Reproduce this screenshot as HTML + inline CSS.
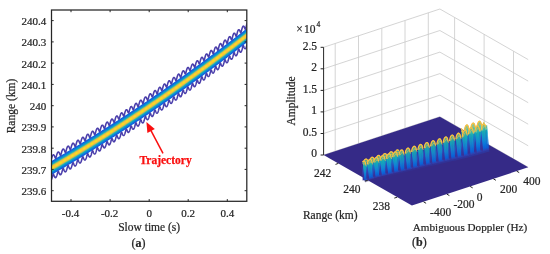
<!DOCTYPE html>
<html><head><meta charset="utf-8"><title>Figure</title>
<style>html,body{margin:0;padding:0;background:#fff;width:550px;height:254px;overflow:hidden}svg{display:block}</style>
</head><body>
<svg width="550" height="254" viewBox="0 0 550 254"><defs><filter id="sb" x="-5%" y="-5%" width="110%" height="110%"><feGaussianBlur stdDeviation="0.45"/></filter><clipPath id="cpa"><rect x="51.5" y="10.0" width="195.3" height="191.3"/></clipPath></defs>
<g clip-path="url(#cpa)"><g filter="url(#sb)">
<path d="M43.50 165.54 L45.28 164.53 L47.05 163.51 L48.83 162.49 L50.60 161.46 L52.38 160.44 L54.15 159.40 L55.93 158.37 L57.71 157.33 L59.48 156.29 L61.26 155.25 L63.03 154.20 L64.81 153.15 L66.58 152.10 L68.36 151.04 L70.13 149.98 L71.91 148.92 L73.69 147.86 L75.46 146.79 L77.24 145.71 L79.01 144.64 L80.79 143.56 L82.56 142.48 L84.34 141.39 L86.12 140.30 L87.89 139.21 L89.67 138.12 L91.44 137.02 L93.22 135.92 L94.99 134.81 L96.77 133.70 L98.54 132.59 L100.32 131.48 L102.10 130.36 L103.87 129.24 L105.65 128.12 L107.42 126.99 L109.20 125.86 L110.97 124.73 L112.75 123.59 L114.53 122.45 L116.30 121.31 L118.08 120.16 L119.85 119.01 L121.63 117.86 L123.40 116.70 L125.18 115.54 L126.95 114.38 L128.73 113.21 L130.51 112.04 L132.28 110.87 L134.06 109.70 L135.83 108.52 L137.61 107.34 L139.38 106.15 L141.16 104.96 L142.94 103.77 L144.71 102.58 L146.49 101.38 L148.26 100.18 L150.04 98.97 L151.81 97.77 L153.59 96.56 L155.36 95.34 L157.14 94.12 L158.92 92.90 L160.69 91.68 L162.47 90.45 L164.24 89.22 L166.02 87.99 L167.79 86.75 L169.57 85.51 L171.35 84.27 L173.12 83.02 L174.90 81.78 L176.67 80.52 L178.45 79.27 L180.22 78.01 L182.00 76.75 L183.77 75.48 L185.55 74.21 L187.33 72.94 L189.10 71.66 L190.88 70.39 L192.65 69.10 L194.43 67.82 L196.20 66.53 L197.98 65.24 L199.76 63.95 L201.53 62.65 L203.31 61.35 L205.08 60.04 L206.86 58.74 L208.63 57.43 L210.41 56.11 L212.18 54.80 L213.96 53.48 L215.74 52.15 L217.51 50.83 L219.29 49.50 L221.06 48.16 L222.84 46.83 L224.61 45.49 L226.39 44.14 L228.17 42.80 L229.94 41.45 L231.72 40.10 L233.49 38.74 L235.27 37.38 L237.04 36.02 L238.82 34.66 L240.59 33.29 L242.37 31.92 L244.15 30.54 L245.92 29.16 L247.70 27.78 L249.47 26.40 L251.25 25.01 L253.02 23.62 L254.80 22.23 L254.80 36.23 L253.02 37.62 L251.25 39.01 L249.47 40.40 L247.70 41.78 L245.92 43.16 L244.15 44.54 L242.37 45.92 L240.59 47.29 L238.82 48.66 L237.04 50.02 L235.27 51.38 L233.49 52.74 L231.72 54.10 L229.94 55.45 L228.17 56.80 L226.39 58.14 L224.61 59.49 L222.84 60.83 L221.06 62.16 L219.29 63.50 L217.51 64.83 L215.74 66.15 L213.96 67.48 L212.18 68.80 L210.41 70.11 L208.63 71.43 L206.86 72.74 L205.08 74.04 L203.31 75.35 L201.53 76.65 L199.76 77.95 L197.98 79.24 L196.20 80.53 L194.43 81.82 L192.65 83.10 L190.88 84.39 L189.10 85.66 L187.33 86.94 L185.55 88.21 L183.77 89.48 L182.00 90.75 L180.22 92.01 L178.45 93.27 L176.67 94.52 L174.90 95.78 L173.12 97.02 L171.35 98.27 L169.57 99.51 L167.79 100.75 L166.02 101.99 L164.24 103.22 L162.47 104.45 L160.69 105.68 L158.92 106.90 L157.14 108.12 L155.36 109.34 L153.59 110.56 L151.81 111.77 L150.04 112.97 L148.26 114.18 L146.49 115.38 L144.71 116.58 L142.94 117.77 L141.16 118.96 L139.38 120.15 L137.61 121.34 L135.83 122.52 L134.06 123.70 L132.28 124.87 L130.51 126.04 L128.73 127.21 L126.95 128.38 L125.18 129.54 L123.40 130.70 L121.63 131.86 L119.85 133.01 L118.08 134.16 L116.30 135.31 L114.53 136.45 L112.75 137.59 L110.97 138.73 L109.20 139.86 L107.42 140.99 L105.65 142.12 L103.87 143.24 L102.10 144.36 L100.32 145.48 L98.54 146.59 L96.77 147.70 L94.99 148.81 L93.22 149.92 L91.44 151.02 L89.67 152.12 L87.89 153.21 L86.12 154.30 L84.34 155.39 L82.56 156.48 L80.79 157.56 L79.01 158.64 L77.24 159.71 L75.46 160.79 L73.69 161.86 L71.91 162.92 L70.13 163.98 L68.36 165.04 L66.58 166.10 L64.81 167.15 L63.03 168.20 L61.26 169.25 L59.48 170.29 L57.71 171.33 L55.93 172.37 L54.15 173.40 L52.38 174.44 L50.60 175.46 L48.83 176.49 L47.05 177.51 L45.28 178.53 L43.50 179.54 Z" fill="#0860df"/>
<path d="M43.50 166.74 L45.28 165.73 L47.05 164.71 L48.83 163.69 L50.60 162.66 L52.38 161.64 L54.15 160.60 L55.93 159.57 L57.71 158.53 L59.48 157.49 L61.26 156.45 L63.03 155.40 L64.81 154.35 L66.58 153.30 L68.36 152.24 L70.13 151.18 L71.91 150.12 L73.69 149.06 L75.46 147.99 L77.24 146.91 L79.01 145.84 L80.79 144.76 L82.56 143.68 L84.34 142.59 L86.12 141.50 L87.89 140.41 L89.67 139.32 L91.44 138.22 L93.22 137.12 L94.99 136.01 L96.77 134.90 L98.54 133.79 L100.32 132.68 L102.10 131.56 L103.87 130.44 L105.65 129.32 L107.42 128.19 L109.20 127.06 L110.97 125.93 L112.75 124.79 L114.53 123.65 L116.30 122.51 L118.08 121.36 L119.85 120.21 L121.63 119.06 L123.40 117.90 L125.18 116.74 L126.95 115.58 L128.73 114.41 L130.51 113.24 L132.28 112.07 L134.06 110.90 L135.83 109.72 L137.61 108.54 L139.38 107.35 L141.16 106.16 L142.94 104.97 L144.71 103.78 L146.49 102.58 L148.26 101.38 L150.04 100.17 L151.81 98.97 L153.59 97.76 L155.36 96.54 L157.14 95.32 L158.92 94.10 L160.69 92.88 L162.47 91.65 L164.24 90.42 L166.02 89.19 L167.79 87.95 L169.57 86.71 L171.35 85.47 L173.12 84.22 L174.90 82.98 L176.67 81.72 L178.45 80.47 L180.22 79.21 L182.00 77.95 L183.77 76.68 L185.55 75.41 L187.33 74.14 L189.10 72.86 L190.88 71.59 L192.65 70.30 L194.43 69.02 L196.20 67.73 L197.98 66.44 L199.76 65.15 L201.53 63.85 L203.31 62.55 L205.08 61.24 L206.86 59.94 L208.63 58.63 L210.41 57.31 L212.18 56.00 L213.96 54.68 L215.74 53.35 L217.51 52.03 L219.29 50.70 L221.06 49.36 L222.84 48.03 L224.61 46.69 L226.39 45.34 L228.17 44.00 L229.94 42.65 L231.72 41.30 L233.49 39.94 L235.27 38.58 L237.04 37.22 L238.82 35.86 L240.59 34.49 L242.37 33.12 L244.15 31.74 L245.92 30.36 L247.70 28.98 L249.47 27.60 L251.25 26.21 L253.02 24.82 L254.80 23.43 L254.80 35.03 L253.02 36.42 L251.25 37.81 L249.47 39.20 L247.70 40.58 L245.92 41.96 L244.15 43.34 L242.37 44.72 L240.59 46.09 L238.82 47.46 L237.04 48.82 L235.27 50.18 L233.49 51.54 L231.72 52.90 L229.94 54.25 L228.17 55.60 L226.39 56.94 L224.61 58.29 L222.84 59.63 L221.06 60.96 L219.29 62.30 L217.51 63.63 L215.74 64.95 L213.96 66.28 L212.18 67.60 L210.41 68.91 L208.63 70.23 L206.86 71.54 L205.08 72.84 L203.31 74.15 L201.53 75.45 L199.76 76.75 L197.98 78.04 L196.20 79.33 L194.43 80.62 L192.65 81.90 L190.88 83.19 L189.10 84.46 L187.33 85.74 L185.55 87.01 L183.77 88.28 L182.00 89.55 L180.22 90.81 L178.45 92.07 L176.67 93.32 L174.90 94.58 L173.12 95.82 L171.35 97.07 L169.57 98.31 L167.79 99.55 L166.02 100.79 L164.24 102.02 L162.47 103.25 L160.69 104.48 L158.92 105.70 L157.14 106.92 L155.36 108.14 L153.59 109.36 L151.81 110.57 L150.04 111.77 L148.26 112.98 L146.49 114.18 L144.71 115.38 L142.94 116.57 L141.16 117.76 L139.38 118.95 L137.61 120.14 L135.83 121.32 L134.06 122.50 L132.28 123.67 L130.51 124.84 L128.73 126.01 L126.95 127.18 L125.18 128.34 L123.40 129.50 L121.63 130.66 L119.85 131.81 L118.08 132.96 L116.30 134.11 L114.53 135.25 L112.75 136.39 L110.97 137.53 L109.20 138.66 L107.42 139.79 L105.65 140.92 L103.87 142.04 L102.10 143.16 L100.32 144.28 L98.54 145.39 L96.77 146.50 L94.99 147.61 L93.22 148.72 L91.44 149.82 L89.67 150.92 L87.89 152.01 L86.12 153.10 L84.34 154.19 L82.56 155.28 L80.79 156.36 L79.01 157.44 L77.24 158.51 L75.46 159.59 L73.69 160.66 L71.91 161.72 L70.13 162.78 L68.36 163.84 L66.58 164.90 L64.81 165.95 L63.03 167.00 L61.26 168.05 L59.48 169.09 L57.71 170.13 L55.93 171.17 L54.15 172.20 L52.38 173.24 L50.60 174.26 L48.83 175.29 L47.05 176.31 L45.28 177.33 L43.50 178.34 Z" fill="#0f77db"/>
<path d="M43.50 167.94 L45.28 166.93 L47.05 165.91 L48.83 164.89 L50.60 163.86 L52.38 162.84 L54.15 161.80 L55.93 160.77 L57.71 159.73 L59.48 158.69 L61.26 157.65 L63.03 156.60 L64.81 155.55 L66.58 154.50 L68.36 153.44 L70.13 152.38 L71.91 151.32 L73.69 150.26 L75.46 149.19 L77.24 148.11 L79.01 147.04 L80.79 145.96 L82.56 144.88 L84.34 143.79 L86.12 142.70 L87.89 141.61 L89.67 140.52 L91.44 139.42 L93.22 138.32 L94.99 137.21 L96.77 136.10 L98.54 134.99 L100.32 133.88 L102.10 132.76 L103.87 131.64 L105.65 130.52 L107.42 129.39 L109.20 128.26 L110.97 127.13 L112.75 125.99 L114.53 124.85 L116.30 123.71 L118.08 122.56 L119.85 121.41 L121.63 120.26 L123.40 119.10 L125.18 117.94 L126.95 116.78 L128.73 115.61 L130.51 114.44 L132.28 113.27 L134.06 112.10 L135.83 110.92 L137.61 109.74 L139.38 108.55 L141.16 107.36 L142.94 106.17 L144.71 104.98 L146.49 103.78 L148.26 102.58 L150.04 101.37 L151.81 100.17 L153.59 98.96 L155.36 97.74 L157.14 96.52 L158.92 95.30 L160.69 94.08 L162.47 92.85 L164.24 91.62 L166.02 90.39 L167.79 89.15 L169.57 87.91 L171.35 86.67 L173.12 85.42 L174.90 84.18 L176.67 82.92 L178.45 81.67 L180.22 80.41 L182.00 79.15 L183.77 77.88 L185.55 76.61 L187.33 75.34 L189.10 74.06 L190.88 72.79 L192.65 71.50 L194.43 70.22 L196.20 68.93 L197.98 67.64 L199.76 66.35 L201.53 65.05 L203.31 63.75 L205.08 62.44 L206.86 61.14 L208.63 59.83 L210.41 58.51 L212.18 57.20 L213.96 55.88 L215.74 54.55 L217.51 53.23 L219.29 51.90 L221.06 50.56 L222.84 49.23 L224.61 47.89 L226.39 46.54 L228.17 45.20 L229.94 43.85 L231.72 42.50 L233.49 41.14 L235.27 39.78 L237.04 38.42 L238.82 37.06 L240.59 35.69 L242.37 34.32 L244.15 32.94 L245.92 31.56 L247.70 30.18 L249.47 28.80 L251.25 27.41 L253.02 26.02 L254.80 24.63 L254.80 33.83 L253.02 35.22 L251.25 36.61 L249.47 38.00 L247.70 39.38 L245.92 40.76 L244.15 42.14 L242.37 43.52 L240.59 44.89 L238.82 46.26 L237.04 47.62 L235.27 48.98 L233.49 50.34 L231.72 51.70 L229.94 53.05 L228.17 54.40 L226.39 55.74 L224.61 57.09 L222.84 58.43 L221.06 59.76 L219.29 61.10 L217.51 62.43 L215.74 63.75 L213.96 65.08 L212.18 66.40 L210.41 67.71 L208.63 69.03 L206.86 70.34 L205.08 71.64 L203.31 72.95 L201.53 74.25 L199.76 75.55 L197.98 76.84 L196.20 78.13 L194.43 79.42 L192.65 80.70 L190.88 81.99 L189.10 83.26 L187.33 84.54 L185.55 85.81 L183.77 87.08 L182.00 88.35 L180.22 89.61 L178.45 90.87 L176.67 92.12 L174.90 93.38 L173.12 94.62 L171.35 95.87 L169.57 97.11 L167.79 98.35 L166.02 99.59 L164.24 100.82 L162.47 102.05 L160.69 103.28 L158.92 104.50 L157.14 105.72 L155.36 106.94 L153.59 108.16 L151.81 109.37 L150.04 110.57 L148.26 111.78 L146.49 112.98 L144.71 114.18 L142.94 115.37 L141.16 116.56 L139.38 117.75 L137.61 118.94 L135.83 120.12 L134.06 121.30 L132.28 122.47 L130.51 123.64 L128.73 124.81 L126.95 125.98 L125.18 127.14 L123.40 128.30 L121.63 129.46 L119.85 130.61 L118.08 131.76 L116.30 132.91 L114.53 134.05 L112.75 135.19 L110.97 136.33 L109.20 137.46 L107.42 138.59 L105.65 139.72 L103.87 140.84 L102.10 141.96 L100.32 143.08 L98.54 144.19 L96.77 145.30 L94.99 146.41 L93.22 147.52 L91.44 148.62 L89.67 149.72 L87.89 150.81 L86.12 151.90 L84.34 152.99 L82.56 154.08 L80.79 155.16 L79.01 156.24 L77.24 157.31 L75.46 158.39 L73.69 159.46 L71.91 160.52 L70.13 161.58 L68.36 162.64 L66.58 163.70 L64.81 164.75 L63.03 165.80 L61.26 166.85 L59.48 167.89 L57.71 168.93 L55.93 169.97 L54.15 171.00 L52.38 172.04 L50.60 173.06 L48.83 174.09 L47.05 175.11 L45.28 176.13 L43.50 177.14 Z" fill="#079cd0"/>
<path d="M43.50 168.84 L45.28 167.83 L47.05 166.81 L48.83 165.79 L50.60 164.76 L52.38 163.74 L54.15 162.70 L55.93 161.67 L57.71 160.63 L59.48 159.59 L61.26 158.55 L63.03 157.50 L64.81 156.45 L66.58 155.40 L68.36 154.34 L70.13 153.28 L71.91 152.22 L73.69 151.16 L75.46 150.09 L77.24 149.01 L79.01 147.94 L80.79 146.86 L82.56 145.78 L84.34 144.69 L86.12 143.60 L87.89 142.51 L89.67 141.42 L91.44 140.32 L93.22 139.22 L94.99 138.11 L96.77 137.00 L98.54 135.89 L100.32 134.78 L102.10 133.66 L103.87 132.54 L105.65 131.42 L107.42 130.29 L109.20 129.16 L110.97 128.03 L112.75 126.89 L114.53 125.75 L116.30 124.61 L118.08 123.46 L119.85 122.31 L121.63 121.16 L123.40 120.00 L125.18 118.84 L126.95 117.68 L128.73 116.51 L130.51 115.34 L132.28 114.17 L134.06 113.00 L135.83 111.82 L137.61 110.64 L139.38 109.45 L141.16 108.26 L142.94 107.07 L144.71 105.88 L146.49 104.68 L148.26 103.48 L150.04 102.27 L151.81 101.07 L153.59 99.86 L155.36 98.64 L157.14 97.42 L158.92 96.20 L160.69 94.98 L162.47 93.75 L164.24 92.52 L166.02 91.29 L167.79 90.05 L169.57 88.81 L171.35 87.57 L173.12 86.32 L174.90 85.08 L176.67 83.82 L178.45 82.57 L180.22 81.31 L182.00 80.05 L183.77 78.78 L185.55 77.51 L187.33 76.24 L189.10 74.96 L190.88 73.69 L192.65 72.40 L194.43 71.12 L196.20 69.83 L197.98 68.54 L199.76 67.25 L201.53 65.95 L203.31 64.65 L205.08 63.34 L206.86 62.04 L208.63 60.73 L210.41 59.41 L212.18 58.10 L213.96 56.78 L215.74 55.45 L217.51 54.13 L219.29 52.80 L221.06 51.46 L222.84 50.13 L224.61 48.79 L226.39 47.44 L228.17 46.10 L229.94 44.75 L231.72 43.40 L233.49 42.04 L235.27 40.68 L237.04 39.32 L238.82 37.96 L240.59 36.59 L242.37 35.22 L244.15 33.84 L245.92 32.46 L247.70 31.08 L249.47 29.70 L251.25 28.31 L253.02 26.92 L254.80 25.53 L254.80 32.93 L253.02 34.32 L251.25 35.71 L249.47 37.10 L247.70 38.48 L245.92 39.86 L244.15 41.24 L242.37 42.62 L240.59 43.99 L238.82 45.36 L237.04 46.72 L235.27 48.08 L233.49 49.44 L231.72 50.80 L229.94 52.15 L228.17 53.50 L226.39 54.84 L224.61 56.19 L222.84 57.53 L221.06 58.86 L219.29 60.20 L217.51 61.53 L215.74 62.85 L213.96 64.18 L212.18 65.50 L210.41 66.81 L208.63 68.13 L206.86 69.44 L205.08 70.74 L203.31 72.05 L201.53 73.35 L199.76 74.65 L197.98 75.94 L196.20 77.23 L194.43 78.52 L192.65 79.80 L190.88 81.09 L189.10 82.36 L187.33 83.64 L185.55 84.91 L183.77 86.18 L182.00 87.45 L180.22 88.71 L178.45 89.97 L176.67 91.22 L174.90 92.48 L173.12 93.72 L171.35 94.97 L169.57 96.21 L167.79 97.45 L166.02 98.69 L164.24 99.92 L162.47 101.15 L160.69 102.38 L158.92 103.60 L157.14 104.82 L155.36 106.04 L153.59 107.26 L151.81 108.47 L150.04 109.67 L148.26 110.88 L146.49 112.08 L144.71 113.28 L142.94 114.47 L141.16 115.66 L139.38 116.85 L137.61 118.04 L135.83 119.22 L134.06 120.40 L132.28 121.57 L130.51 122.74 L128.73 123.91 L126.95 125.08 L125.18 126.24 L123.40 127.40 L121.63 128.56 L119.85 129.71 L118.08 130.86 L116.30 132.01 L114.53 133.15 L112.75 134.29 L110.97 135.43 L109.20 136.56 L107.42 137.69 L105.65 138.82 L103.87 139.94 L102.10 141.06 L100.32 142.18 L98.54 143.29 L96.77 144.40 L94.99 145.51 L93.22 146.62 L91.44 147.72 L89.67 148.82 L87.89 149.91 L86.12 151.00 L84.34 152.09 L82.56 153.18 L80.79 154.26 L79.01 155.34 L77.24 156.41 L75.46 157.49 L73.69 158.56 L71.91 159.62 L70.13 160.68 L68.36 161.74 L66.58 162.80 L64.81 163.85 L63.03 164.90 L61.26 165.95 L59.48 166.99 L57.71 168.03 L55.93 169.07 L54.15 170.10 L52.38 171.14 L50.60 172.16 L48.83 173.19 L47.05 174.21 L45.28 175.23 L43.50 176.24 Z" fill="#22b4ac"/>
<path d="M43.50 169.64 L45.28 168.63 L47.05 167.61 L48.83 166.59 L50.60 165.56 L52.38 164.54 L54.15 163.50 L55.93 162.47 L57.71 161.43 L59.48 160.39 L61.26 159.35 L63.03 158.30 L64.81 157.25 L66.58 156.20 L68.36 155.14 L70.13 154.08 L71.91 153.02 L73.69 151.96 L75.46 150.89 L77.24 149.81 L79.01 148.74 L80.79 147.66 L82.56 146.58 L84.34 145.49 L86.12 144.40 L87.89 143.31 L89.67 142.22 L91.44 141.12 L93.22 140.02 L94.99 138.91 L96.77 137.80 L98.54 136.69 L100.32 135.58 L102.10 134.46 L103.87 133.34 L105.65 132.22 L107.42 131.09 L109.20 129.96 L110.97 128.83 L112.75 127.69 L114.53 126.55 L116.30 125.41 L118.08 124.26 L119.85 123.11 L121.63 121.96 L123.40 120.80 L125.18 119.64 L126.95 118.48 L128.73 117.31 L130.51 116.14 L132.28 114.97 L134.06 113.80 L135.83 112.62 L137.61 111.44 L139.38 110.25 L141.16 109.06 L142.94 107.87 L144.71 106.68 L146.49 105.48 L148.26 104.28 L150.04 103.07 L151.81 101.87 L153.59 100.66 L155.36 99.44 L157.14 98.22 L158.92 97.00 L160.69 95.78 L162.47 94.55 L164.24 93.32 L166.02 92.09 L167.79 90.85 L169.57 89.61 L171.35 88.37 L173.12 87.12 L174.90 85.88 L176.67 84.62 L178.45 83.37 L180.22 82.11 L182.00 80.85 L183.77 79.58 L185.55 78.31 L187.33 77.04 L189.10 75.76 L190.88 74.49 L192.65 73.20 L194.43 71.92 L196.20 70.63 L197.98 69.34 L199.76 68.05 L201.53 66.75 L203.31 65.45 L205.08 64.14 L206.86 62.84 L208.63 61.53 L210.41 60.21 L212.18 58.90 L213.96 57.58 L215.74 56.25 L217.51 54.93 L219.29 53.60 L221.06 52.26 L222.84 50.93 L224.61 49.59 L226.39 48.24 L228.17 46.90 L229.94 45.55 L231.72 44.20 L233.49 42.84 L235.27 41.48 L237.04 40.12 L238.82 38.76 L240.59 37.39 L242.37 36.02 L244.15 34.64 L245.92 33.26 L247.70 31.88 L249.47 30.50 L251.25 29.11 L253.02 27.72 L254.80 26.33 L254.80 32.13 L253.02 33.52 L251.25 34.91 L249.47 36.30 L247.70 37.68 L245.92 39.06 L244.15 40.44 L242.37 41.82 L240.59 43.19 L238.82 44.56 L237.04 45.92 L235.27 47.28 L233.49 48.64 L231.72 50.00 L229.94 51.35 L228.17 52.70 L226.39 54.04 L224.61 55.39 L222.84 56.73 L221.06 58.06 L219.29 59.40 L217.51 60.73 L215.74 62.05 L213.96 63.38 L212.18 64.70 L210.41 66.01 L208.63 67.33 L206.86 68.64 L205.08 69.94 L203.31 71.25 L201.53 72.55 L199.76 73.85 L197.98 75.14 L196.20 76.43 L194.43 77.72 L192.65 79.00 L190.88 80.29 L189.10 81.56 L187.33 82.84 L185.55 84.11 L183.77 85.38 L182.00 86.65 L180.22 87.91 L178.45 89.17 L176.67 90.42 L174.90 91.68 L173.12 92.92 L171.35 94.17 L169.57 95.41 L167.79 96.65 L166.02 97.89 L164.24 99.12 L162.47 100.35 L160.69 101.58 L158.92 102.80 L157.14 104.02 L155.36 105.24 L153.59 106.46 L151.81 107.67 L150.04 108.87 L148.26 110.08 L146.49 111.28 L144.71 112.48 L142.94 113.67 L141.16 114.86 L139.38 116.05 L137.61 117.24 L135.83 118.42 L134.06 119.60 L132.28 120.77 L130.51 121.94 L128.73 123.11 L126.95 124.28 L125.18 125.44 L123.40 126.60 L121.63 127.76 L119.85 128.91 L118.08 130.06 L116.30 131.21 L114.53 132.35 L112.75 133.49 L110.97 134.63 L109.20 135.76 L107.42 136.89 L105.65 138.02 L103.87 139.14 L102.10 140.26 L100.32 141.38 L98.54 142.49 L96.77 143.60 L94.99 144.71 L93.22 145.82 L91.44 146.92 L89.67 148.02 L87.89 149.11 L86.12 150.20 L84.34 151.29 L82.56 152.38 L80.79 153.46 L79.01 154.54 L77.24 155.61 L75.46 156.69 L73.69 157.76 L71.91 158.82 L70.13 159.88 L68.36 160.94 L66.58 162.00 L64.81 163.05 L63.03 164.10 L61.26 165.15 L59.48 166.19 L57.71 167.23 L55.93 168.27 L54.15 169.30 L52.38 170.34 L50.60 171.36 L48.83 172.39 L47.05 173.41 L45.28 174.43 L43.50 175.44 Z" fill="#88bf77"/>
<path d="M43.50 170.34 L45.28 169.33 L47.05 168.31 L48.83 167.29 L50.60 166.26 L52.38 165.24 L54.15 164.20 L55.93 163.17 L57.71 162.13 L59.48 161.09 L61.26 160.05 L63.03 159.00 L64.81 157.95 L66.58 156.90 L68.36 155.84 L70.13 154.78 L71.91 153.72 L73.69 152.66 L75.46 151.59 L77.24 150.51 L79.01 149.44 L80.79 148.36 L82.56 147.28 L84.34 146.19 L86.12 145.10 L87.89 144.01 L89.67 142.92 L91.44 141.82 L93.22 140.72 L94.99 139.61 L96.77 138.50 L98.54 137.39 L100.32 136.28 L102.10 135.16 L103.87 134.04 L105.65 132.92 L107.42 131.79 L109.20 130.66 L110.97 129.53 L112.75 128.39 L114.53 127.25 L116.30 126.11 L118.08 124.96 L119.85 123.81 L121.63 122.66 L123.40 121.50 L125.18 120.34 L126.95 119.18 L128.73 118.01 L130.51 116.84 L132.28 115.67 L134.06 114.50 L135.83 113.32 L137.61 112.14 L139.38 110.95 L141.16 109.76 L142.94 108.57 L144.71 107.38 L146.49 106.18 L148.26 104.98 L150.04 103.77 L151.81 102.57 L153.59 101.36 L155.36 100.14 L157.14 98.92 L158.92 97.70 L160.69 96.48 L162.47 95.25 L164.24 94.02 L166.02 92.79 L167.79 91.55 L169.57 90.31 L171.35 89.07 L173.12 87.82 L174.90 86.58 L176.67 85.32 L178.45 84.07 L180.22 82.81 L182.00 81.55 L183.77 80.28 L185.55 79.01 L187.33 77.74 L189.10 76.46 L190.88 75.19 L192.65 73.90 L194.43 72.62 L196.20 71.33 L197.98 70.04 L199.76 68.75 L201.53 67.45 L203.31 66.15 L205.08 64.84 L206.86 63.54 L208.63 62.23 L210.41 60.91 L212.18 59.60 L213.96 58.28 L215.74 56.95 L217.51 55.63 L219.29 54.30 L221.06 52.96 L222.84 51.63 L224.61 50.29 L226.39 48.94 L228.17 47.60 L229.94 46.25 L231.72 44.90 L233.49 43.54 L235.27 42.18 L237.04 40.82 L238.82 39.46 L240.59 38.09 L242.37 36.72 L244.15 35.34 L245.92 33.96 L247.70 32.58 L249.47 31.20 L251.25 29.81 L253.02 28.42 L254.80 27.03 L254.80 31.43 L253.02 32.82 L251.25 34.21 L249.47 35.60 L247.70 36.98 L245.92 38.36 L244.15 39.74 L242.37 41.12 L240.59 42.49 L238.82 43.86 L237.04 45.22 L235.27 46.58 L233.49 47.94 L231.72 49.30 L229.94 50.65 L228.17 52.00 L226.39 53.34 L224.61 54.69 L222.84 56.03 L221.06 57.36 L219.29 58.70 L217.51 60.03 L215.74 61.35 L213.96 62.68 L212.18 64.00 L210.41 65.31 L208.63 66.63 L206.86 67.94 L205.08 69.24 L203.31 70.55 L201.53 71.85 L199.76 73.15 L197.98 74.44 L196.20 75.73 L194.43 77.02 L192.65 78.30 L190.88 79.59 L189.10 80.86 L187.33 82.14 L185.55 83.41 L183.77 84.68 L182.00 85.95 L180.22 87.21 L178.45 88.47 L176.67 89.72 L174.90 90.98 L173.12 92.22 L171.35 93.47 L169.57 94.71 L167.79 95.95 L166.02 97.19 L164.24 98.42 L162.47 99.65 L160.69 100.88 L158.92 102.10 L157.14 103.32 L155.36 104.54 L153.59 105.76 L151.81 106.97 L150.04 108.17 L148.26 109.38 L146.49 110.58 L144.71 111.78 L142.94 112.97 L141.16 114.16 L139.38 115.35 L137.61 116.54 L135.83 117.72 L134.06 118.90 L132.28 120.07 L130.51 121.24 L128.73 122.41 L126.95 123.58 L125.18 124.74 L123.40 125.90 L121.63 127.06 L119.85 128.21 L118.08 129.36 L116.30 130.51 L114.53 131.65 L112.75 132.79 L110.97 133.93 L109.20 135.06 L107.42 136.19 L105.65 137.32 L103.87 138.44 L102.10 139.56 L100.32 140.68 L98.54 141.79 L96.77 142.90 L94.99 144.01 L93.22 145.12 L91.44 146.22 L89.67 147.32 L87.89 148.41 L86.12 149.50 L84.34 150.59 L82.56 151.68 L80.79 152.76 L79.01 153.84 L77.24 154.91 L75.46 155.99 L73.69 157.06 L71.91 158.12 L70.13 159.18 L68.36 160.24 L66.58 161.30 L64.81 162.35 L63.03 163.40 L61.26 164.45 L59.48 165.49 L57.71 166.53 L55.93 167.57 L54.15 168.60 L52.38 169.64 L50.60 170.66 L48.83 171.69 L47.05 172.71 L45.28 173.73 L43.50 174.74 Z" fill="#e2b951"/>
<path d="M43.50 171.24 L45.28 170.23 L47.05 169.21 L48.83 168.19 L50.60 167.16 L52.38 166.14 L54.15 165.10 L55.93 164.07 L57.71 163.03 L59.48 161.99 L61.26 160.95 L63.03 159.90 L64.81 158.85 L66.58 157.80 L68.36 156.74 L70.13 155.68 L71.91 154.62 L73.69 153.56 L75.46 152.49 L77.24 151.41 L79.01 150.34 L80.79 149.26 L82.56 148.18 L84.34 147.09 L86.12 146.00 L87.89 144.91 L89.67 143.82 L91.44 142.72 L93.22 141.62 L94.99 140.51 L96.77 139.40 L98.54 138.29 L100.32 137.18 L102.10 136.06 L103.87 134.94 L105.65 133.82 L107.42 132.69 L109.20 131.56 L110.97 130.43 L112.75 129.29 L114.53 128.15 L116.30 127.01 L118.08 125.86 L119.85 124.71 L121.63 123.56 L123.40 122.40 L125.18 121.24 L126.95 120.08 L128.73 118.91 L130.51 117.74 L132.28 116.57 L134.06 115.40 L135.83 114.22 L137.61 113.04 L139.38 111.85 L141.16 110.66 L142.94 109.47 L144.71 108.28 L146.49 107.08 L148.26 105.88 L150.04 104.67 L151.81 103.47 L153.59 102.26 L155.36 101.04 L157.14 99.82 L158.92 98.60 L160.69 97.38 L162.47 96.15 L164.24 94.92 L166.02 93.69 L167.79 92.45 L169.57 91.21 L171.35 89.97 L173.12 88.72 L174.90 87.48 L176.67 86.22 L178.45 84.97 L180.22 83.71 L182.00 82.45 L183.77 81.18 L185.55 79.91 L187.33 78.64 L189.10 77.36 L190.88 76.09 L192.65 74.80 L194.43 73.52 L196.20 72.23 L197.98 70.94 L199.76 69.65 L201.53 68.35 L203.31 67.05 L205.08 65.74 L206.86 64.44 L208.63 63.13 L210.41 61.81 L212.18 60.50 L213.96 59.18 L215.74 57.85 L217.51 56.53 L219.29 55.20 L221.06 53.86 L222.84 52.53 L224.61 51.19 L226.39 49.84 L228.17 48.50 L229.94 47.15 L231.72 45.80 L233.49 44.44 L235.27 43.08 L237.04 41.72 L238.82 40.36 L240.59 38.99 L242.37 37.62 L244.15 36.24 L245.92 34.86 L247.70 33.48 L249.47 32.10 L251.25 30.71 L253.02 29.32 L254.80 27.93 L254.80 30.53 L253.02 31.92 L251.25 33.31 L249.47 34.70 L247.70 36.08 L245.92 37.46 L244.15 38.84 L242.37 40.22 L240.59 41.59 L238.82 42.96 L237.04 44.32 L235.27 45.68 L233.49 47.04 L231.72 48.40 L229.94 49.75 L228.17 51.10 L226.39 52.44 L224.61 53.79 L222.84 55.13 L221.06 56.46 L219.29 57.80 L217.51 59.13 L215.74 60.45 L213.96 61.78 L212.18 63.10 L210.41 64.41 L208.63 65.73 L206.86 67.04 L205.08 68.34 L203.31 69.65 L201.53 70.95 L199.76 72.25 L197.98 73.54 L196.20 74.83 L194.43 76.12 L192.65 77.40 L190.88 78.69 L189.10 79.96 L187.33 81.24 L185.55 82.51 L183.77 83.78 L182.00 85.05 L180.22 86.31 L178.45 87.57 L176.67 88.82 L174.90 90.08 L173.12 91.32 L171.35 92.57 L169.57 93.81 L167.79 95.05 L166.02 96.29 L164.24 97.52 L162.47 98.75 L160.69 99.98 L158.92 101.20 L157.14 102.42 L155.36 103.64 L153.59 104.86 L151.81 106.07 L150.04 107.27 L148.26 108.48 L146.49 109.68 L144.71 110.88 L142.94 112.07 L141.16 113.26 L139.38 114.45 L137.61 115.64 L135.83 116.82 L134.06 118.00 L132.28 119.17 L130.51 120.34 L128.73 121.51 L126.95 122.68 L125.18 123.84 L123.40 125.00 L121.63 126.16 L119.85 127.31 L118.08 128.46 L116.30 129.61 L114.53 130.75 L112.75 131.89 L110.97 133.03 L109.20 134.16 L107.42 135.29 L105.65 136.42 L103.87 137.54 L102.10 138.66 L100.32 139.78 L98.54 140.89 L96.77 142.00 L94.99 143.11 L93.22 144.22 L91.44 145.32 L89.67 146.42 L87.89 147.51 L86.12 148.60 L84.34 149.69 L82.56 150.78 L80.79 151.86 L79.01 152.94 L77.24 154.01 L75.46 155.09 L73.69 156.16 L71.91 157.22 L70.13 158.28 L68.36 159.34 L66.58 160.40 L64.81 161.45 L63.03 162.50 L61.26 163.55 L59.48 164.59 L57.71 165.63 L55.93 166.67 L54.15 167.70 L52.38 168.74 L50.60 169.76 L48.83 170.79 L47.05 171.81 L45.28 172.83 L43.50 173.84 Z" fill="#fec733"/>
<path d="M43.50 172.54 L45.28 171.53 L47.05 170.51 L48.83 169.49 L50.60 168.46 L52.38 167.44 L54.15 166.40 L55.93 165.37 L57.71 164.33 L59.48 163.29 L61.26 162.25 L63.03 161.20 L64.81 160.15 L66.58 159.10 L68.36 158.04 L70.13 156.98 L71.91 155.92 L73.69 154.86 L75.46 153.79 L77.24 152.71 L79.01 151.64 L80.79 150.56 L82.56 149.48 L84.34 148.39 L86.12 147.30 L87.89 146.21 L89.67 145.12 L91.44 144.02 L93.22 142.92 L94.99 141.81 L96.77 140.70 L98.54 139.59 L100.32 138.48 L102.10 137.36 L103.87 136.24 L105.65 135.12 L107.42 133.99 L109.20 132.86 L110.97 131.73 L112.75 130.59 L114.53 129.45 L116.30 128.31 L118.08 127.16 L119.85 126.01 L121.63 124.86 L123.40 123.70 L125.18 122.54 L126.95 121.38 L128.73 120.21 L130.51 119.04 L132.28 117.87 L134.06 116.70 L135.83 115.52 L137.61 114.34 L139.38 113.15 L141.16 111.96 L142.94 110.77 L144.71 109.58 L146.49 108.38 L148.26 107.18 L150.04 105.97 L151.81 104.77 L153.59 103.56 L155.36 102.34 L157.14 101.12 L158.92 99.90 L160.69 98.68 L162.47 97.45 L164.24 96.22 L166.02 94.99 L167.79 93.75 L169.57 92.51 L171.35 91.27 L173.12 90.02 L174.90 88.78 L176.67 87.52 L178.45 86.27 L180.22 85.01 L182.00 83.75 L183.77 82.48 L185.55 81.21 L187.33 79.94 L189.10 78.66 L190.88 77.39 L192.65 76.10 L194.43 74.82 L196.20 73.53 L197.98 72.24 L199.76 70.95 L201.53 69.65 L203.31 68.35 L205.08 67.04 L206.86 65.74 L208.63 64.43 L210.41 63.11 L212.18 61.80 L213.96 60.48 L215.74 59.15 L217.51 57.83 L219.29 56.50 L221.06 55.16 L222.84 53.83 L224.61 52.49 L226.39 51.14 L228.17 49.80 L229.94 48.45 L231.72 47.10 L233.49 45.74 L235.27 44.38 L237.04 43.02 L238.82 41.66 L240.59 40.29 L242.37 38.92 L244.15 37.54 L245.92 36.16 L247.70 34.78 L249.47 33.40 L251.25 32.01 L253.02 30.62 L254.80 29.23" fill="none" stroke="#f5e31e" stroke-width="1.6" stroke-dasharray="2.6 2.0"/>
</g>
<path d="M43.58 160.52 L43.84 160.63 L44.08 160.88 L44.32 161.24 L44.54 161.68 L44.75 162.16 L44.94 162.65 L45.12 163.11 L45.28 163.50 L45.43 163.79 L45.57 163.96 L45.71 163.98 L45.85 163.84 L45.99 163.56 L46.13 163.13 L46.29 162.59 L46.46 161.95 L46.65 161.25 L46.85 160.53 L47.07 159.82 L47.30 159.17 L47.55 158.60 L47.80 158.16 L48.07 157.85 L48.33 157.69 L48.59 157.68 L48.85 157.83 L49.09 158.10 L49.33 158.48 L49.55 158.93 L49.75 159.42 L49.94 159.90 L50.11 160.35 L50.27 160.72 L50.42 160.99 L50.56 161.12 L50.70 161.11 L50.83 160.94 L50.97 160.62 L51.12 160.17 L51.29 159.60 L51.46 158.94 L51.65 158.23 L51.86 157.50 L52.08 156.80 L52.31 156.17 L52.56 155.63 L52.82 155.21 L53.08 154.93 L53.34 154.81 L53.60 154.84 L53.86 155.02 L54.10 155.32 L54.33 155.72 L54.55 156.18 L54.75 156.68 L54.93 157.16 L55.10 157.59 L55.26 157.94 L55.40 158.17 L55.54 158.26 L55.68 158.21 L55.82 158.00 L55.96 157.64 L56.11 157.15 L56.28 156.55 L56.46 155.87 L56.65 155.15 L56.86 154.42 L57.09 153.74 L57.33 153.12 L57.58 152.61 L57.84 152.23 L58.10 152.00 L58.36 151.93 L58.62 152.00 L58.87 152.22 L59.11 152.55 L59.34 152.97 L59.55 153.45 L59.74 153.94 L59.92 154.41 L60.09 154.82 L60.24 155.14 L60.38 155.33 L60.52 155.37 L60.66 155.27 L60.80 155.01 L60.94 154.60 L61.10 154.07 L61.27 153.44 L61.45 152.74 L61.65 152.01 L61.87 151.29 L62.10 150.62 L62.34 150.04 L62.60 149.57 L62.86 149.24 L63.12 149.06 L63.38 149.04 L63.64 149.16 L63.89 149.42 L64.12 149.79 L64.34 150.24 L64.55 150.72 L64.74 151.21 L64.91 151.67 L65.07 152.04 L65.22 152.31 L65.36 152.45 L65.50 152.44 L65.63 152.28 L65.78 151.96 L65.92 151.50 L66.09 150.93 L66.26 150.26 L66.45 149.55 L66.66 148.81 L66.88 148.11 L67.12 147.47 L67.36 146.92 L67.62 146.51 L67.88 146.23 L68.15 146.11 L68.41 146.15 L68.66 146.33 L68.90 146.64 L69.13 147.04 L69.35 147.51 L69.55 148.00 L69.73 148.48 L69.90 148.91 L70.05 149.25 L70.20 149.46 L70.33 149.54 L70.47 149.47 L70.61 149.23 L70.75 148.85 L70.91 148.34 L71.07 147.72 L71.25 147.03 L71.45 146.30 L71.66 145.57 L71.89 144.88 L72.14 144.28 L72.39 143.79 L72.65 143.43 L72.91 143.22 L73.18 143.17 L73.43 143.28 L73.68 143.52 L73.92 143.87 L74.14 144.31 L74.35 144.80 L74.54 145.29 L74.72 145.75 L74.88 146.14 L75.03 146.42 L75.17 146.57 L75.30 146.58 L75.44 146.43 L75.58 146.12 L75.73 145.68 L75.89 145.11 L76.06 144.44 L76.25 143.72 L76.46 142.99 L76.68 142.28 L76.91 141.62 L77.16 141.07 L77.42 140.64 L77.68 140.35 L77.94 140.22 L78.21 140.25 L78.46 140.42 L78.70 140.73 L78.93 141.13 L79.15 141.59 L79.35 142.09 L79.53 142.57 L79.70 143.00 L79.85 143.34 L80.00 143.56 L80.13 143.63 L80.27 143.56 L80.41 143.32 L80.55 142.94 L80.71 142.42 L80.87 141.80 L81.05 141.10 L81.25 140.36 L81.46 139.63 L81.69 138.94 L81.94 138.34 L82.19 137.85 L82.45 137.49 L82.72 137.29 L82.98 137.25 L83.24 137.35 L83.49 137.60 L83.72 137.96 L83.94 138.40 L84.15 138.89 L84.34 139.38 L84.51 139.84 L84.67 140.22 L84.82 140.50 L84.96 140.64 L85.10 140.63 L85.23 140.46 L85.37 140.14 L85.52 139.67 L85.68 139.08 L85.86 138.41 L86.05 137.68 L86.26 136.94 L86.48 136.23 L86.72 135.59 L86.97 135.04 L87.23 134.63 L87.49 134.36 L87.75 134.25 L88.01 134.30 L88.27 134.49 L88.51 134.81 L88.74 135.23 L88.95 135.70 L89.15 136.20 L89.33 136.67 L89.49 137.09 L89.64 137.41 L89.78 137.60 L89.92 137.65 L90.06 137.54 L90.20 137.27 L90.34 136.86 L90.50 136.31 L90.67 135.66 L90.85 134.95 L91.05 134.21 L91.27 133.48 L91.50 132.80 L91.75 132.22 L92.00 131.75 L92.27 131.43 L92.53 131.26 L92.79 131.25 L93.05 131.40 L93.30 131.68 L93.53 132.06 L93.75 132.52 L93.95 133.01 L94.13 133.50 L94.30 133.94 L94.46 134.30 L94.60 134.53 L94.74 134.63 L94.88 134.57 L95.02 134.36 L95.16 133.99 L95.31 133.48 L95.48 132.86 L95.65 132.16 L95.85 131.42 L96.06 130.68 L96.29 129.98 L96.53 129.36 L96.79 128.85 L97.05 128.48 L97.31 128.27 L97.58 128.21 L97.83 128.31 L98.08 128.55 L98.32 128.91 L98.54 129.35 L98.75 129.84 L98.94 130.33 L99.11 130.79 L99.27 131.17 L99.42 131.44 L99.56 131.58 L99.70 131.57 L99.83 131.40 L99.97 131.07 L100.12 130.59 L100.28 130.00 L100.46 129.31 L100.65 128.58 L100.86 127.83 L101.08 127.12 L101.32 126.47 L101.57 125.93 L101.83 125.52 L102.10 125.26 L102.36 125.16 L102.62 125.23 L102.87 125.43 L103.11 125.76 L103.34 126.19 L103.55 126.67 L103.74 127.16 L103.92 127.63 L104.08 128.04 L104.23 128.34 L104.38 128.51 L104.51 128.53 L104.65 128.40 L104.79 128.10 L104.93 127.65 L105.09 127.08 L105.26 126.41 L105.45 125.68 L105.66 124.93 L105.88 124.20 L106.11 123.54 L106.36 122.97 L106.62 122.53 L106.88 122.24 L107.15 122.11 L107.41 122.14 L107.66 122.32 L107.91 122.62 L108.14 123.03 L108.35 123.50 L108.55 124.00 L108.73 124.48 L108.89 124.90 L109.04 125.22 L109.19 125.42 L109.32 125.47 L109.46 125.36 L109.60 125.09 L109.74 124.67 L109.90 124.11 L110.07 123.46 L110.25 122.73 L110.45 121.98 L110.67 121.24 L110.91 120.56 L111.15 119.97 L111.41 119.51 L111.67 119.19 L111.94 119.04 L112.20 119.04 L112.46 119.20 L112.70 119.49 L112.93 119.88 L113.15 120.35 L113.35 120.84 L113.53 121.33 L113.70 121.76 L113.85 122.10 L113.99 122.31 L114.13 122.38 L114.27 122.29 L114.40 122.04 L114.55 121.64 L114.70 121.10 L114.87 120.45 L115.05 119.73 L115.25 118.98 L115.47 118.23 L115.70 117.54 L115.95 116.94 L116.20 116.46 L116.47 116.12 L116.73 115.95 L116.99 115.93 L117.25 116.07 L117.50 116.35 L117.73 116.74 L117.95 117.20 L118.15 117.69 L118.33 118.18 L118.50 118.62 L118.66 118.97 L118.80 119.19 L118.94 119.28 L119.07 119.20 L119.21 118.96 L119.35 118.56 L119.50 118.03 L119.67 117.39 L119.85 116.67 L120.05 115.92 L120.27 115.17 L120.50 114.47 L120.74 113.86 L121.00 113.37 L121.26 113.02 L121.53 112.84 L121.79 112.81 L122.05 112.95 L122.29 113.22 L122.53 113.60 L122.75 114.06 L122.95 114.55 L123.13 115.04 L123.30 115.48 L123.46 115.83 L123.60 116.07 L123.74 116.15 L123.87 116.08 L124.01 115.84 L124.15 115.45 L124.31 114.92 L124.47 114.28 L124.65 113.56 L124.85 112.80 L125.07 112.05 L125.30 111.35 L125.54 110.74 L125.80 110.24 L126.06 109.89 L126.33 109.70 L126.59 109.68 L126.85 109.81 L127.09 110.08 L127.33 110.46 L127.55 110.92 L127.75 111.42 L127.93 111.91 L128.10 112.35 L128.26 112.70 L128.40 112.93 L128.54 113.01 L128.67 112.94 L128.81 112.70 L128.95 112.30 L129.10 111.76 L129.27 111.12 L129.45 110.39 L129.65 109.63 L129.87 108.88 L130.10 108.18 L130.34 107.57 L130.60 107.08 L130.86 106.73 L131.13 106.55 L131.39 106.53 L131.65 106.67 L131.90 106.95 L132.13 107.33 L132.35 107.79 L132.55 108.29 L132.73 108.78 L132.90 109.21 L133.05 109.56 L133.20 109.78 L133.33 109.85 L133.47 109.77 L133.60 109.52 L133.75 109.11 L133.90 108.56 L134.07 107.90 L134.25 107.17 L134.45 106.41 L134.67 105.66 L134.90 104.96 L135.15 104.36 L135.41 103.88 L135.67 103.54 L135.94 103.37 L136.20 103.37 L136.45 103.52 L136.70 103.81 L136.93 104.20 L137.15 104.67 L137.35 105.17 L137.53 105.65 L137.69 106.08 L137.85 106.41 L137.99 106.62 L138.13 106.68 L138.26 106.57 L138.40 106.30 L138.54 105.87 L138.70 105.31 L138.87 104.64 L139.05 103.90 L139.25 103.14 L139.47 102.39 L139.71 101.70 L139.96 101.10 L140.21 100.64 L140.48 100.33 L140.74 100.18 L141.01 100.20 L141.26 100.37 L141.51 100.67 L141.74 101.08 L141.95 101.56 L142.15 102.06 L142.32 102.53 L142.49 102.95 L142.64 103.27 L142.78 103.45 L142.92 103.48 L143.05 103.35 L143.19 103.05 L143.33 102.59 L143.49 102.01 L143.66 101.32 L143.85 100.57 L144.06 99.80 L144.28 99.06 L144.52 98.38 L144.77 97.81 L145.03 97.37 L145.29 97.09 L145.56 96.97 L145.82 97.02 L146.07 97.22 L146.31 97.54 L146.54 97.97 L146.75 98.45 L146.94 98.95 L147.12 99.42 L147.28 99.82 L147.43 100.11 L147.57 100.26 L147.70 100.26 L147.84 100.09 L147.97 99.75 L148.12 99.26 L148.28 98.65 L148.46 97.95 L148.65 97.19 L148.86 96.42 L149.09 95.69 L149.33 95.03 L149.58 94.48 L149.84 94.07 L150.11 93.83 L150.37 93.75 L150.63 93.83 L150.88 94.07 L151.12 94.42 L151.34 94.86 L151.55 95.35 L151.74 95.85 L151.91 96.31 L152.07 96.68 L152.21 96.94 L152.35 97.05 L152.48 97.00 L152.62 96.79 L152.76 96.41 L152.91 95.89 L153.07 95.24 L153.25 94.52 L153.45 93.75 L153.67 92.98 L153.90 92.26 L154.14 91.63 L154.40 91.12 L154.66 90.75 L154.93 90.55 L155.19 90.52 L155.45 90.65 L155.70 90.92 L155.93 91.31 L156.15 91.77 L156.35 92.27 L156.53 92.75 L156.70 93.19 L156.85 93.53 L156.99 93.75 L157.13 93.81 L157.26 93.71 L157.40 93.45 L157.54 93.02 L157.70 92.45 L157.87 91.78 L158.05 91.03 L158.25 90.26 L158.47 89.50 L158.71 88.80 L158.96 88.20 L159.22 87.73 L159.48 87.42 L159.75 87.28 L160.01 87.30 L160.27 87.48 L160.51 87.79 L160.74 88.20 L160.95 88.68 L161.14 89.18 L161.32 89.66 L161.48 90.07 L161.63 90.37 L161.77 90.53 L161.91 90.54 L162.04 90.38 L162.18 90.05 L162.33 89.57 L162.48 88.96 L162.66 88.25 L162.85 87.48 L163.06 86.71 L163.28 85.97 L163.53 85.30 L163.78 84.74 L164.04 84.33 L164.31 84.08 L164.57 84.00 L164.83 84.08 L165.08 84.32 L165.32 84.67 L165.54 85.12 L165.75 85.61 L165.94 86.11 L166.11 86.56 L166.26 86.93 L166.41 87.18 L166.55 87.28 L166.68 87.22 L166.81 86.99 L166.96 86.59 L167.11 86.05 L167.27 85.40 L167.45 84.66 L167.65 83.88 L167.87 83.11 L168.10 82.39 L168.35 81.77 L168.60 81.27 L168.87 80.92 L169.14 80.74 L169.40 80.73 L169.66 80.88 L169.90 81.17 L170.13 81.57 L170.35 82.05 L170.55 82.55 L170.73 83.03 L170.89 83.45 L171.04 83.77 L171.18 83.96 L171.32 83.99 L171.45 83.85 L171.59 83.54 L171.73 83.07 L171.89 82.47 L172.06 81.77 L172.25 81.01 L172.46 80.22 L172.68 79.47 L172.92 78.79 L173.17 78.22 L173.43 77.79 L173.70 77.52 L173.97 77.42 L174.23 77.49 L174.48 77.71 L174.72 78.06 L174.94 78.50 L175.15 78.99 L175.34 79.49 L175.51 79.94 L175.67 80.32 L175.81 80.58 L175.95 80.69 L176.08 80.63 L176.22 80.41 L176.36 80.01 L176.51 79.48 L176.67 78.82 L176.85 78.08 L177.05 77.29 L177.27 76.52 L177.50 75.80 L177.75 75.17 L178.00 74.66 L178.27 74.31 L178.54 74.13 L178.80 74.12 L179.06 74.27 L179.30 74.56 L179.53 74.97 L179.75 75.44 L179.95 75.94 L180.13 76.42 L180.29 76.84 L180.44 77.16 L180.58 77.34 L180.71 77.36 L180.85 77.21 L180.98 76.89 L181.13 76.41 L181.29 75.80 L181.46 75.09 L181.65 74.32 L181.86 73.53 L182.08 72.78 L182.33 72.10 L182.58 71.53 L182.84 71.11 L183.11 70.86 L183.37 70.77 L183.63 70.86 L183.89 71.09 L184.12 71.45 L184.35 71.90 L184.55 72.40 L184.74 72.89 L184.91 73.35 L185.06 73.71 L185.20 73.95 L185.34 74.03 L185.47 73.95 L185.61 73.70 L185.75 73.28 L185.90 72.72 L186.07 72.04 L186.25 71.28 L186.45 70.49 L186.67 69.72 L186.91 69.01 L187.16 68.39 L187.42 67.91 L187.68 67.59 L187.95 67.44 L188.21 67.46 L188.47 67.64 L188.71 67.96 L188.94 68.38 L189.15 68.87 L189.34 69.37 L189.52 69.84 L189.68 70.24 L189.82 70.53 L189.96 70.67 L190.10 70.65 L190.23 70.45 L190.37 70.09 L190.52 69.57 L190.68 68.93 L190.86 68.19 L191.05 67.41 L191.26 66.62 L191.49 65.88 L191.74 65.23 L192.00 64.70 L192.26 64.32 L192.53 64.11 L192.79 64.07 L193.05 64.20 L193.30 64.48 L193.53 64.87 L193.75 65.34 L193.95 65.84 L194.13 66.33 L194.29 66.76 L194.44 67.08 L194.58 67.28 L194.72 67.31 L194.85 67.17 L194.99 66.85 L195.13 66.38 L195.29 65.76 L195.46 65.05 L195.65 64.27 L195.86 63.48 L196.08 62.72 L196.32 62.03 L196.58 61.46 L196.84 61.04 L197.11 60.78 L197.37 60.69 L197.64 60.78 L197.89 61.01 L198.12 61.38 L198.35 61.83 L198.55 62.33 L198.73 62.82 L198.90 63.27 L199.06 63.63 L199.20 63.86 L199.33 63.93 L199.47 63.84 L199.60 63.56 L199.74 63.13 L199.90 62.55 L200.07 61.85 L200.25 61.08 L200.45 60.29 L200.68 59.51 L200.91 58.80 L201.16 58.20 L201.43 57.73 L201.69 57.43 L201.96 57.30 L202.22 57.35 L202.48 57.55 L202.72 57.89 L202.94 58.33 L203.15 58.82 L203.34 59.32 L203.51 59.78 L203.67 60.16 L203.81 60.42 L203.95 60.53 L204.08 60.47 L204.21 60.24 L204.35 59.83 L204.51 59.28 L204.67 58.60 L204.85 57.84 L205.05 57.05 L205.27 56.26 L205.50 55.53 L205.75 54.90 L206.01 54.41 L206.28 54.07 L206.55 53.91 L206.81 53.92 L207.07 54.10 L207.31 54.41 L207.54 54.84 L207.75 55.32 L207.94 55.82 L208.12 56.30 L208.28 56.70 L208.42 56.98 L208.56 57.11 L208.69 57.08 L208.82 56.87 L208.96 56.49 L209.11 55.96 L209.27 55.30 L209.45 54.55 L209.65 53.75 L209.87 52.96 L210.10 52.22 L210.35 51.57 L210.60 51.05 L210.87 50.69 L211.14 50.50 L211.40 50.49 L211.66 50.64 L211.91 50.94 L212.14 51.35 L212.35 51.83 L212.54 52.34 L212.72 52.82 L212.88 53.23 L213.03 53.52 L213.17 53.68 L213.30 53.67 L213.43 53.48 L213.57 53.12 L213.72 52.60 L213.88 51.95 L214.06 51.20 L214.25 50.41 L214.46 49.61 L214.69 48.86 L214.94 48.19 L215.20 47.66 L215.46 47.28 L215.73 47.07 L216.00 47.05 L216.26 47.19 L216.50 47.47 L216.73 47.87 L216.95 48.35 L217.15 48.85 L217.32 49.34 L217.49 49.76 L217.63 50.07 L217.77 50.23 L217.90 50.23 L218.04 50.06 L218.17 49.70 L218.32 49.19 L218.48 48.55 L218.66 47.80 L218.85 47.01 L219.06 46.21 L219.29 45.45 L219.54 44.78 L219.80 44.23 L220.06 43.85 L220.33 43.63 L220.59 43.59 L220.85 43.73 L221.10 44.01 L221.33 44.40 L221.55 44.88 L221.75 45.38 L221.92 45.87 L222.09 46.29 L222.23 46.60 L222.37 46.77 L222.51 46.78 L222.64 46.60 L222.78 46.25 L222.92 45.74 L223.08 45.10 L223.26 44.35 L223.45 43.56 L223.66 42.75 L223.89 41.99 L224.14 41.32 L224.40 40.77 L224.66 40.38 L224.93 40.17 L225.19 40.13 L225.45 40.26 L225.70 40.54 L225.93 40.94 L226.15 41.42 L226.35 41.92 L226.52 42.41 L226.69 42.83 L226.83 43.14 L226.97 43.30 L227.10 43.30 L227.24 43.12 L227.37 42.77 L227.52 42.25 L227.68 41.60 L227.86 40.85 L228.05 40.05 L228.26 39.25 L228.49 38.49 L228.74 37.82 L229.00 37.28 L229.26 36.89 L229.53 36.68 L229.80 36.65 L230.06 36.79 L230.30 37.08 L230.54 37.48 L230.75 37.96 L230.94 38.47 L231.12 38.95 L231.28 39.36 L231.43 39.67 L231.57 39.82 L231.70 39.81 L231.83 39.62 L231.97 39.25 L232.12 38.72 L232.28 38.06 L232.45 37.30 L232.65 36.50 L232.87 35.69 L233.10 34.94 L233.34 34.27 L233.60 33.74 L233.87 33.37 L234.14 33.18 L234.40 33.16 L234.66 33.32 L234.91 33.62 L235.14 34.03 L235.35 34.52 L235.54 35.02 L235.72 35.50 L235.88 35.91 L236.02 36.19 L236.16 36.33 L236.29 36.30 L236.42 36.08 L236.56 35.69 L236.71 35.14 L236.87 34.47 L237.05 33.70 L237.25 32.89 L237.47 32.09 L237.70 31.34 L237.95 30.69 L238.21 30.17 L238.48 29.83 L238.75 29.66 L239.01 29.67 L239.27 29.84 L239.51 30.16 L239.74 30.59 L239.95 31.08 L240.14 31.59 L240.31 32.06 L240.47 32.45 L240.61 32.71 L240.75 32.82 L240.88 32.76 L241.01 32.52 L241.15 32.10 L241.30 31.52 L241.47 30.82 L241.65 30.04 L241.85 29.23 L242.07 28.43 L242.31 27.69 L242.56 27.06 L242.82 26.58 L243.09 26.26 L243.36 26.12 L243.62 26.16 L243.88 26.37 L244.12 26.72 L244.34 27.16 L244.55 27.66 L244.74 28.16 L244.91 28.62 L245.06 28.98 L245.20 29.22 L245.33 29.30 L245.47 29.20 L245.60 28.91 L245.74 28.45 L245.89 27.85 L246.06 27.13 L246.25 26.33 L246.46 25.52 L246.68 24.72 L246.92 24.01 L247.18 23.40 L247.44 22.95 L247.71 22.68 L247.98 22.58 L248.24 22.66 L248.49 22.90 L248.73 23.28 L248.95 23.74 L249.15 24.24 L249.33 24.74 L249.50 25.18 L249.65 25.52 L249.78 25.71 L249.92 25.75 L250.05 25.60 L250.18 25.27 L250.33 24.77 L250.48 24.12 L250.66 23.38 L250.85 22.57 L251.06 21.75 L251.29 20.97 L251.54 20.28 L251.79 19.71 L252.06 19.31 L252.33 19.08 L252.59 19.04 L252.85 19.16 L253.10 19.45 L253.33 19.85 L253.55 20.33 L253.74 20.84 L253.92 21.32 L254.08 21.74 L254.23 22.04 L254.36 22.19 L254.50 22.16 L254.63 21.96" fill="none" stroke="#4a3eab" stroke-width="1.55" stroke-linejoin="round"/>
<path d="M43.44 179.94 L43.58 180.07 L43.73 180.33 L43.89 180.70 L44.06 181.15 L44.25 181.63 L44.45 182.12 L44.67 182.58 L44.91 182.96 L45.15 183.23 L45.41 183.38 L45.67 183.38 L45.93 183.23 L46.19 182.93 L46.45 182.49 L46.69 181.93 L46.93 181.28 L47.15 180.57 L47.35 179.85 L47.54 179.15 L47.71 178.51 L47.87 177.96 L48.02 177.52 L48.16 177.23 L48.29 177.10 L48.43 177.11 L48.57 177.27 L48.72 177.56 L48.88 177.94 L49.06 178.40 L49.25 178.89 L49.46 179.38 L49.68 179.82 L49.92 180.18 L50.16 180.43 L50.42 180.54 L50.68 180.51 L50.95 180.32 L51.21 179.99 L51.46 179.51 L51.70 178.93 L51.93 178.26 L52.15 177.55 L52.35 176.82 L52.53 176.13 L52.70 175.51 L52.86 174.98 L53.00 174.58 L53.14 174.33 L53.28 174.22 L53.42 174.28 L53.56 174.47 L53.71 174.78 L53.88 175.19 L54.06 175.66 L54.25 176.16 L54.46 176.63 L54.69 177.06 L54.93 177.39 L55.18 177.60 L55.44 177.68 L55.70 177.60 L55.96 177.37 L56.22 177.00 L56.47 176.49 L56.71 175.87 L56.94 175.19 L57.15 174.46 L57.34 173.74 L57.52 173.06 L57.69 172.46 L57.84 171.97 L57.98 171.61 L58.12 171.40 L58.26 171.34 L58.40 171.44 L58.54 171.67 L58.70 172.02 L58.87 172.45 L59.05 172.93 L59.25 173.43 L59.47 173.89 L59.70 174.29 L59.94 174.59 L60.20 174.76 L60.46 174.78 L60.72 174.66 L60.98 174.38 L61.24 173.95 L61.49 173.40 L61.72 172.76 L61.94 172.05 L62.15 171.32 L62.34 170.61 L62.51 169.95 L62.67 169.38 L62.82 168.93 L62.96 168.62 L63.10 168.46 L63.24 168.46 L63.38 168.61 L63.53 168.88 L63.69 169.26 L63.86 169.72 L64.05 170.21 L64.26 170.70 L64.48 171.14 L64.71 171.50 L64.96 171.76 L65.22 171.88 L65.48 171.85 L65.74 171.66 L66.01 171.32 L66.26 170.85 L66.50 170.26 L66.73 169.58 L66.95 168.86 L67.15 168.13 L67.33 167.43 L67.50 166.80 L67.65 166.27 L67.80 165.87 L67.94 165.62 L68.07 165.53 L68.21 165.58 L68.36 165.78 L68.51 166.11 L68.67 166.52 L68.85 167.00 L69.05 167.49 L69.26 167.97 L69.49 168.38 L69.73 168.70 L69.98 168.90 L70.24 168.96 L70.51 168.86 L70.77 168.61 L71.03 168.20 L71.28 167.67 L71.52 167.04 L71.74 166.34 L71.95 165.61 L72.14 164.88 L72.32 164.21 L72.48 163.62 L72.63 163.14 L72.77 162.81 L72.91 162.62 L73.05 162.60 L73.19 162.72 L73.33 162.98 L73.49 163.35 L73.66 163.80 L73.85 164.29 L74.05 164.78 L74.27 165.23 L74.51 165.60 L74.76 165.87 L75.01 166.00 L75.27 165.99 L75.54 165.81 L75.80 165.48 L76.05 165.02 L76.30 164.43 L76.53 163.76 L76.75 163.03 L76.95 162.30 L77.13 161.59 L77.30 160.95 L77.46 160.41 L77.60 160.00 L77.74 159.74 L77.88 159.64 L78.02 159.69 L78.16 159.88 L78.31 160.20 L78.48 160.61 L78.65 161.09 L78.85 161.58 L79.06 162.06 L79.29 162.47 L79.53 162.80 L79.78 162.99 L80.04 163.05 L80.31 162.95 L80.57 162.69 L80.83 162.29 L81.08 161.75 L81.32 161.11 L81.54 160.41 L81.75 159.67 L81.94 158.94 L82.12 158.26 L82.28 157.67 L82.43 157.20 L82.57 156.87 L82.71 156.69 L82.84 156.67 L82.98 156.80 L83.13 157.07 L83.29 157.44 L83.46 157.90 L83.65 158.39 L83.86 158.88 L84.08 159.32 L84.31 159.69 L84.56 159.95 L84.82 160.06 L85.08 160.03 L85.34 159.84 L85.61 159.49 L85.86 159.01 L86.10 158.40 L86.33 157.72 L86.55 156.99 L86.75 156.25 L86.93 155.54 L87.10 154.91 L87.25 154.39 L87.39 153.99 L87.53 153.75 L87.67 153.67 L87.81 153.74 L87.95 153.96 L88.10 154.29 L88.27 154.72 L88.45 155.20 L88.65 155.69 L88.87 156.16 L89.10 156.56 L89.34 156.87 L89.59 157.04 L89.86 157.06 L90.12 156.93 L90.38 156.64 L90.64 156.20 L90.89 155.63 L91.12 154.97 L91.35 154.25 L91.55 153.51 L91.74 152.79 L91.91 152.12 L92.07 151.55 L92.22 151.11 L92.35 150.81 L92.49 150.67 L92.63 150.69 L92.77 150.86 L92.92 151.15 L93.08 151.55 L93.26 152.02 L93.45 152.51 L93.66 153.00 L93.88 153.42 L94.12 153.76 L94.38 153.98 L94.64 154.05 L94.90 153.97 L95.16 153.73 L95.42 153.33 L95.67 152.81 L95.91 152.17 L96.14 151.46 L96.35 150.72 L96.54 149.98 L96.72 149.29 L96.88 148.69 L97.03 148.20 L97.17 147.86 L97.31 147.67 L97.45 147.64 L97.59 147.76 L97.73 148.02 L97.89 148.40 L98.06 148.85 L98.25 149.34 L98.46 149.83 L98.68 150.28 L98.91 150.64 L99.16 150.90 L99.42 151.01 L99.68 150.97 L99.95 150.77 L100.21 150.42 L100.46 149.92 L100.71 149.31 L100.93 148.61 L101.15 147.87 L101.35 147.13 L101.53 146.42 L101.69 145.79 L101.85 145.27 L101.99 144.89 L102.13 144.66 L102.26 144.59 L102.40 144.67 L102.54 144.90 L102.70 145.25 L102.87 145.69 L103.05 146.17 L103.25 146.67 L103.47 147.13 L103.70 147.52 L103.95 147.80 L104.20 147.95 L104.47 147.94 L104.73 147.78 L104.99 147.45 L105.25 146.99 L105.50 146.39 L105.73 145.71 L105.95 144.98 L106.15 144.23 L106.33 143.51 L106.50 142.86 L106.66 142.31 L106.80 141.89 L106.94 141.63 L107.07 141.52 L107.21 141.58 L107.35 141.78 L107.51 142.11 L107.67 142.53 L107.85 143.01 L108.05 143.51 L108.27 143.98 L108.50 144.38 L108.74 144.69 L108.99 144.86 L109.26 144.88 L109.52 144.75 L109.78 144.45 L110.04 144.00 L110.29 143.43 L110.53 142.76 L110.75 142.02 L110.95 141.27 L111.14 140.54 L111.31 139.88 L111.46 139.31 L111.61 138.87 L111.75 138.58 L111.88 138.45 L112.02 138.48 L112.16 138.66 L112.31 138.97 L112.48 139.38 L112.66 139.86 L112.85 140.35 L113.06 140.83 L113.29 141.25 L113.53 141.57 L113.79 141.76 L114.05 141.80 L114.31 141.68 L114.58 141.40 L114.83 140.97 L115.08 140.41 L115.32 139.75 L115.54 139.02 L115.75 138.26 L115.94 137.53 L116.11 136.85 L116.27 136.27 L116.42 135.81 L116.56 135.50 L116.69 135.36 L116.83 135.37 L116.97 135.54 L117.12 135.84 L117.28 136.24 L117.46 136.71 L117.65 137.21 L117.86 137.69 L118.09 138.11 L118.33 138.44 L118.58 138.64 L118.84 138.70 L119.11 138.59 L119.37 138.32 L119.63 137.90 L119.88 137.35 L120.12 136.69 L120.34 135.96 L120.55 135.20 L120.74 134.46 L120.91 133.78 L121.07 133.18 L121.22 132.72 L121.36 132.40 L121.49 132.24 L121.63 132.25 L121.77 132.41 L121.92 132.70 L122.08 133.10 L122.26 133.57 L122.45 134.07 L122.66 134.55 L122.89 134.98 L123.13 135.31 L123.38 135.52 L123.64 135.58 L123.90 135.47 L124.17 135.21 L124.43 134.79 L124.68 134.23 L124.92 133.57 L125.14 132.84 L125.35 132.09 L125.54 131.34 L125.71 130.65 L125.87 130.06 L126.02 129.59 L126.16 129.27 L126.30 129.11 L126.43 129.12 L126.57 129.28 L126.72 129.57 L126.88 129.97 L127.06 130.44 L127.25 130.93 L127.46 131.42 L127.69 131.84 L127.93 132.17 L128.18 132.38 L128.44 132.44 L128.71 132.33 L128.97 132.06 L129.23 131.63 L129.48 131.07 L129.72 130.41 L129.94 129.68 L130.15 128.92 L130.34 128.17 L130.51 127.48 L130.67 126.89 L130.82 126.43 L130.96 126.11 L131.09 125.96 L131.23 125.97 L131.37 126.14 L131.52 126.44 L131.68 126.84 L131.86 127.31 L132.05 127.81 L132.26 128.29 L132.49 128.71 L132.73 129.04 L132.98 129.23 L133.24 129.28 L133.51 129.16 L133.77 128.87 L134.03 128.44 L134.28 127.87 L134.52 127.19 L134.74 126.46 L134.95 125.69 L135.14 124.95 L135.31 124.26 L135.47 123.68 L135.61 123.23 L135.75 122.92 L135.89 122.79 L136.02 122.81 L136.16 122.99 L136.31 123.30 L136.48 123.72 L136.66 124.19 L136.85 124.69 L137.06 125.17 L137.29 125.58 L137.54 125.89 L137.79 126.07 L138.05 126.10 L138.32 125.96 L138.58 125.65 L138.84 125.20 L139.09 124.61 L139.33 123.93 L139.55 123.18 L139.75 122.41 L139.94 121.67 L140.11 121.00 L140.26 120.43 L140.41 119.99 L140.54 119.71 L140.68 119.60 L140.81 119.64 L140.95 119.85 L141.11 120.17 L141.27 120.60 L141.45 121.08 L141.65 121.58 L141.87 122.05 L142.10 122.45 L142.34 122.74 L142.60 122.90 L142.86 122.89 L143.13 122.73 L143.39 122.39 L143.65 121.91 L143.90 121.30 L144.13 120.60 L144.35 119.85 L144.55 119.08 L144.73 118.35 L144.90 117.69 L145.05 117.14 L145.19 116.73 L145.33 116.48 L145.46 116.39 L145.60 116.47 L145.74 116.70 L145.90 117.05 L146.07 117.49 L146.25 117.98 L146.45 118.47 L146.67 118.93 L146.91 119.31 L147.15 119.58 L147.41 119.70 L147.68 119.66 L147.94 119.46 L148.21 119.09 L148.46 118.58 L148.71 117.94 L148.94 117.22 L149.15 116.46 L149.35 115.70 L149.52 114.97 L149.69 114.33 L149.84 113.81 L149.98 113.44 L150.11 113.23 L150.25 113.18 L150.39 113.30 L150.53 113.56 L150.69 113.93 L150.86 114.39 L151.05 114.88 L151.26 115.38 L151.48 115.82 L151.72 116.17 L151.97 116.40 L152.23 116.48 L152.49 116.40 L152.76 116.15 L153.02 115.74 L153.27 115.19 L153.52 114.53 L153.74 113.79 L153.95 113.02 L154.14 112.26 L154.32 111.55 L154.48 110.94 L154.62 110.46 L154.76 110.13 L154.90 109.96 L155.03 109.96 L155.17 110.12 L155.32 110.42 L155.48 110.82 L155.66 111.30 L155.85 111.80 L156.06 112.28 L156.29 112.70 L156.53 113.02 L156.79 113.20 L157.05 113.24 L157.31 113.10 L157.58 112.80 L157.84 112.34 L158.09 111.75 L158.33 111.05 L158.55 110.30 L158.75 109.52 L158.94 108.77 L159.10 108.09 L159.26 107.52 L159.40 107.08 L159.54 106.80 L159.67 106.69 L159.81 106.75 L159.95 106.96 L160.10 107.30 L160.27 107.73 L160.45 108.22 L160.65 108.72 L160.87 109.18 L161.10 109.57 L161.35 109.85 L161.61 109.98 L161.87 109.95 L162.14 109.75 L162.40 109.39 L162.66 108.88 L162.90 108.24 L163.13 107.52 L163.35 106.75 L163.55 105.98 L163.73 105.25 L163.89 104.60 L164.04 104.07 L164.18 103.69 L164.31 103.48 L164.45 103.43 L164.59 103.55 L164.73 103.81 L164.89 104.19 L165.06 104.65 L165.25 105.15 L165.46 105.64 L165.68 106.08 L165.92 106.42 L166.17 106.65 L166.43 106.71 L166.70 106.62 L166.97 106.35 L167.23 105.92 L167.48 105.35 L167.72 104.67 L167.94 103.92 L168.15 103.14 L168.34 102.38 L168.51 101.68 L168.67 101.08 L168.82 100.61 L168.95 100.30 L169.09 100.16 L169.22 100.18 L169.36 100.36 L169.51 100.68 L169.67 101.10 L169.85 101.58 L170.05 102.08 L170.27 102.56 L170.50 102.96 L170.74 103.25 L171.00 103.41 L171.26 103.40 L171.53 103.23 L171.79 102.88 L172.05 102.38 L172.30 101.76 L172.53 101.04 L172.75 100.27 L172.95 99.49 L173.13 98.75 L173.29 98.08 L173.44 97.54 L173.59 97.14 L173.72 96.91 L173.85 96.85 L173.99 96.95 L174.14 97.20 L174.29 97.58 L174.46 98.03 L174.65 98.53 L174.86 99.02 L175.08 99.47 L175.32 99.82 L175.57 100.05 L175.83 100.12 L176.10 100.03 L176.36 99.77 L176.62 99.34 L176.88 98.77 L177.12 98.09 L177.34 97.34 L177.55 96.55 L177.74 95.78 L177.91 95.08 L178.07 94.47 L178.22 94.00 L178.35 93.69 L178.49 93.54 L178.62 93.57 L178.76 93.76 L178.91 94.08 L179.07 94.50 L179.25 94.98 L179.45 95.48 L179.67 95.96 L179.90 96.35 L180.14 96.64 L180.40 96.79 L180.67 96.77 L180.93 96.58 L181.20 96.23 L181.46 95.71 L181.70 95.08 L181.93 94.35 L182.15 93.57 L182.35 92.79 L182.53 92.05 L182.69 91.39 L182.84 90.86 L182.98 90.47 L183.11 90.26 L183.25 90.21 L183.38 90.33 L183.53 90.60 L183.69 90.98 L183.86 91.45 L184.05 91.94 L184.26 92.43 L184.48 92.87 L184.72 93.21 L184.98 93.41 L185.24 93.46 L185.51 93.34 L185.77 93.05 L186.03 92.60 L186.28 92.00 L186.52 91.30 L186.74 90.54 L186.95 89.75 L187.14 88.98 L187.31 88.29 L187.46 87.70 L187.60 87.26 L187.74 86.97 L187.87 86.86 L188.01 86.92 L188.15 87.14 L188.30 87.48 L188.47 87.92 L188.65 88.41 L188.85 88.91 L189.07 89.37 L189.31 89.75 L189.56 90.01 L189.82 90.11 L190.08 90.05 L190.35 89.82 L190.61 89.42 L190.87 88.87 L191.11 88.20 L191.34 87.45 L191.55 86.66 L191.74 85.88 L191.92 85.15 L192.08 84.53 L192.22 84.03 L192.36 83.69 L192.49 83.52 L192.63 83.52 L192.77 83.69 L192.92 84.00 L193.08 84.41 L193.26 84.89 L193.45 85.39 L193.66 85.87 L193.89 86.28 L194.14 86.58 L194.40 86.73 L194.66 86.72 L194.93 86.54 L195.19 86.19 L195.45 85.68 L195.70 85.04 L195.93 84.31 L196.15 83.52 L196.35 82.73 L196.53 81.98 L196.69 81.32 L196.84 80.78 L196.98 80.39 L197.11 80.17 L197.25 80.13 L197.38 80.25 L197.53 80.52 L197.69 80.91 L197.86 81.38 L198.05 81.88 L198.26 82.37 L198.49 82.80 L198.73 83.13 L198.98 83.32 L199.24 83.36 L199.51 83.22 L199.78 82.91 L200.04 82.44 L200.29 81.82 L200.53 81.11 L200.75 80.33 L200.95 79.54 L201.13 78.77 L201.30 78.08 L201.45 77.51 L201.59 77.08 L201.73 76.82 L201.86 76.73 L202.00 76.82 L202.14 77.06 L202.29 77.42 L202.46 77.88 L202.65 78.38 L202.86 78.87 L203.08 79.32 L203.32 79.67 L203.57 79.90 L203.83 79.97 L204.10 79.87 L204.36 79.59 L204.63 79.15 L204.88 78.56 L205.12 77.86 L205.34 77.09 L205.55 76.29 L205.74 75.51 L205.91 74.80 L206.06 74.20 L206.21 73.75 L206.34 73.45 L206.47 73.33 L206.61 73.39 L206.75 73.60 L206.90 73.94 L207.07 74.38 L207.25 74.88 L207.45 75.38 L207.67 75.84 L207.91 76.21 L208.16 76.46 L208.42 76.56 L208.69 76.48 L208.95 76.23 L209.22 75.81 L209.47 75.24 L209.71 74.56 L209.94 73.79 L210.15 72.99 L210.34 72.21 L210.51 71.48 L210.67 70.86 L210.82 70.38 L210.95 70.06 L211.08 69.92 L211.22 69.95 L211.36 70.14 L211.51 70.47 L211.67 70.90 L211.85 71.39 L212.05 71.89 L212.27 72.36 L212.50 72.75 L212.75 73.01 L213.01 73.13 L213.28 73.07 L213.55 72.84 L213.81 72.44 L214.07 71.88 L214.31 71.21 L214.54 70.44 L214.75 69.64 L214.94 68.85 L215.12 68.12 L215.28 67.49 L215.42 66.99 L215.56 66.65 L215.69 66.49 L215.82 66.50 L215.96 66.68 L216.11 67.00 L216.27 67.42 L216.45 67.91 L216.65 68.42 L216.87 68.89 L217.10 69.28 L217.35 69.56 L217.61 69.68 L217.87 69.64 L218.14 69.42 L218.41 69.03 L218.66 68.48 L218.91 67.81 L219.14 67.05 L219.35 66.24 L219.54 65.45 L219.72 64.71 L219.88 64.07 L220.02 63.56 L220.16 63.21 L220.29 63.04 L220.43 63.05 L220.56 63.22 L220.71 63.53 L220.88 63.96 L221.05 64.44 L221.25 64.95 L221.47 65.42 L221.70 65.82 L221.95 66.10 L222.21 66.23 L222.47 66.19 L222.74 65.97 L223.01 65.58 L223.26 65.03 L223.51 64.36 L223.74 63.59 L223.95 62.79 L224.14 61.99 L224.32 61.25 L224.48 60.61 L224.62 60.10 L224.76 59.75 L224.89 59.58 L225.03 59.58 L225.16 59.76 L225.31 60.07 L225.47 60.49 L225.65 60.98 L225.85 61.49 L226.07 61.96 L226.30 62.36 L226.55 62.63 L226.81 62.76 L227.07 62.71 L227.34 62.49 L227.61 62.09 L227.86 61.54 L228.11 60.86 L228.34 60.09 L228.55 59.29 L228.74 58.49 L228.92 57.75 L229.08 57.10 L229.22 56.60 L229.36 56.26 L229.49 56.09 L229.62 56.11 L229.76 56.29 L229.91 56.61 L230.07 57.04 L230.25 57.53 L230.45 58.03 L230.67 58.50 L230.90 58.89 L231.15 59.16 L231.41 59.28 L231.68 59.22 L231.95 58.98 L232.21 58.57 L232.47 58.00 L232.71 57.31 L232.94 56.54 L233.15 55.73 L233.34 54.93 L233.51 54.19 L233.67 53.56 L233.82 53.07 L233.95 52.74 L234.08 52.60 L234.22 52.63 L234.36 52.82 L234.51 53.16 L234.67 53.59 L234.85 54.09 L235.05 54.59 L235.27 55.06 L235.51 55.43 L235.76 55.68 L236.02 55.78 L236.29 55.70 L236.55 55.44 L236.82 55.00 L237.07 54.42 L237.32 53.71 L237.54 52.93 L237.75 52.12 L237.94 51.32 L238.11 50.60 L238.26 49.98 L238.41 49.51 L238.54 49.20 L238.67 49.08 L238.81 49.14 L238.95 49.36 L239.10 49.71 L239.27 50.16 L239.45 50.66 L239.65 51.16 L239.88 51.61 L240.11 51.97 L240.37 52.20 L240.63 52.27 L240.90 52.15 L241.17 51.86 L241.43 51.40 L241.68 50.79 L241.92 50.06 L242.14 49.27 L242.35 48.45 L242.53 47.67 L242.70 46.95 L242.86 46.36 L243.00 45.92 L243.13 45.65 L243.26 45.56 L243.40 45.65 L243.54 45.89 L243.69 46.27 L243.86 46.73 L244.05 47.23 L244.26 47.73 L244.48 48.17 L244.72 48.50 L244.98 48.70 L245.24 48.73 L245.51 48.58 L245.78 48.25 L246.04 47.75 L246.29 47.11 L246.53 46.36 L246.75 45.56 L246.95 44.74 L247.13 43.96 L247.29 43.27 L247.44 42.71 L247.58 42.30 L247.71 42.07 L247.84 42.03 L247.98 42.15 L248.13 42.44 L248.28 42.84 L248.46 43.31 L248.65 43.82 L248.86 44.31 L249.09 44.72 L249.34 45.03 L249.60 45.18 L249.86 45.17 L250.13 44.97 L250.40 44.59 L250.66 44.05 L250.90 43.37 L251.14 42.60 L251.35 41.79 L251.54 40.98 L251.72 40.22 L251.88 39.55 L252.03 39.03 L252.16 38.67 L252.29 38.49 L252.43 38.50 L252.56 38.67 L252.71 38.99 L252.87 39.42 L253.05 39.91 L253.25 40.42 L253.47 40.89 L253.70 41.27 L253.95 41.54 L254.21 41.64 L254.48 41.57 L254.75 41.31" fill="none" stroke="#4a3eab" stroke-width="1.55" stroke-linejoin="round"/>
</g>
<rect x="51.5" y="10.0" width="195.3" height="191.3" fill="none" stroke="#262626" stroke-width="1.25"/>
<path d="M71.0 10.0v2.2M71.0 201.3v-2.2M110.1 10.0v2.2M110.1 201.3v-2.2M149.2 10.0v2.2M149.2 201.3v-2.2M188.2 10.0v2.2M188.2 201.3v-2.2M227.3 10.0v2.2M227.3 201.3v-2.2M51.5 190.7h2.2M246.8 190.7h-2.2M51.5 169.4h2.2M246.8 169.4h-2.2M51.5 148.2h2.2M246.8 148.2h-2.2M51.5 126.9h2.2M246.8 126.9h-2.2M51.5 105.7h2.2M246.8 105.7h-2.2M51.5 84.4h2.2M246.8 84.4h-2.2M51.5 63.1h2.2M246.8 63.1h-2.2M51.5 41.9h2.2M246.8 41.9h-2.2M51.5 20.6h2.2M246.8 20.6h-2.2" stroke="#262626" stroke-width="1" fill="none"/>
<g font-family="'Liberation Serif','Times New Roman',serif" font-size="11.5" fill="#262626" stroke="#262626" stroke-width="0.22">
<text x="46.3" y="195.1" text-anchor="end" font-size="11">239.6</text>
<text x="46.3" y="173.8" text-anchor="end" font-size="11">239.7</text>
<text x="46.3" y="152.6" text-anchor="end" font-size="11">239.8</text>
<text x="46.3" y="131.3" text-anchor="end" font-size="11">239.9</text>
<text x="46.3" y="110.1" text-anchor="end" font-size="11">240</text>
<text x="46.3" y="88.8" text-anchor="end" font-size="11">240.1</text>
<text x="46.3" y="67.5" text-anchor="end" font-size="11">240.2</text>
<text x="46.3" y="46.3" text-anchor="end" font-size="11">240.3</text>
<text x="46.3" y="25.0" text-anchor="end" font-size="11">240.4</text>
<text x="70.5" y="216.9" text-anchor="middle" font-size="11">-0.4</text>
<text x="109.6" y="216.9" text-anchor="middle" font-size="11">-0.2</text>
<text x="149.2" y="216.9" text-anchor="middle" font-size="11">0</text>
<text x="188.2" y="216.9" text-anchor="middle" font-size="11">0.2</text>
<text x="227.3" y="216.9" text-anchor="middle" font-size="11">0.4</text>
<text x="149.2" y="230.6" text-anchor="middle">Slow time (s)</text>
<text transform="translate(15.4 106) rotate(-90)" text-anchor="middle">Range (km)</text>
<text x="138.5" y="246.5" text-anchor="middle" font-size="12">(<tspan font-weight="bold">a</tspan>)</text>
</g>
<path d="M163.0 153.3L150.2 129.2" stroke="#fa0f0f" stroke-width="1.5"/>
<path d="M146.4 122.1L154.8 129.0L147.4 132.9z" fill="#fa0f0f"/>
<text x="165.6" y="163.8" text-anchor="middle" font-family="'Liberation Serif','Times New Roman',serif" font-size="11.5" font-weight="bold" fill="#fa0f0f" stroke="#fa0f0f" stroke-width="0.25">Trajectory</text>
<path d="M323.6 155.0L439.9 116.7L528.2 167.3M323.6 133.5L439.9 95.2L528.2 145.8M323.6 111.9L439.9 73.6L528.2 124.2M323.6 90.4L439.9 52.1L528.2 102.7M323.6 68.8L439.9 30.5L528.2 81.1M323.6 47.3L439.9 9.0L528.2 59.6M335.2 151.2V43.5M358.5 143.5V35.8M381.8 135.9V28.2M405.0 128.2V20.5M428.3 120.5V12.8M454.6 125.1V17.4M484.1 142.0V34.3M513.5 158.9V51.2" stroke="#c9c9c9" stroke-width="0.8" fill="none"/>
<path d="M323.6 155.0 L411.9 205.6 L528.2 167.3 L439.9 116.7 z" fill="#352a87"/>
<defs>
<linearGradient id="rg0" x1="0" y1="0" x2="0" y2="1"><stop offset="0.00" stop-color="#1c55d6"/><stop offset="0.12" stop-color="#294cc9"/><stop offset="0.30" stop-color="#3145bc"/><stop offset="0.60" stop-color="#353ba8"/><stop offset="0.88" stop-color="#363297"/><stop offset="1.00" stop-color="#363aa7"/></linearGradient>
<linearGradient id="rg1" x1="0" y1="0" x2="0" y2="1"><stop offset="0.00" stop-color="#117ad9"/><stop offset="0.12" stop-color="#0971de"/><stop offset="0.30" stop-color="#0267e1"/><stop offset="0.60" stop-color="#2450cf"/><stop offset="0.88" stop-color="#353caa"/><stop offset="1.00" stop-color="#363aa7"/></linearGradient>
<linearGradient id="rg2" x1="0" y1="0" x2="0" y2="1"><stop offset="0.00" stop-color="#089ad0"/><stop offset="0.12" stop-color="#1389d3"/><stop offset="0.30" stop-color="#117bd9"/><stop offset="0.60" stop-color="#0266e1"/><stop offset="0.88" stop-color="#3046be"/><stop offset="1.00" stop-color="#363aa7"/></linearGradient>
<linearGradient id="rg3" x1="0" y1="0" x2="0" y2="1"><stop offset="0.00" stop-color="#12afb7"/><stop offset="0.12" stop-color="#06a3ca"/><stop offset="0.30" stop-color="#0f90d2"/><stop offset="0.60" stop-color="#0b74dd"/><stop offset="0.88" stop-color="#2251d1"/><stop offset="1.00" stop-color="#363aa7"/></linearGradient>
<linearGradient id="rg4" x1="0" y1="0" x2="0" y2="1"><stop offset="0.00" stop-color="#53bd8f"/><stop offset="0.12" stop-color="#1bb2b0"/><stop offset="0.30" stop-color="#06a4ca"/><stop offset="0.60" stop-color="#137fd7"/><stop offset="0.88" stop-color="#0b5edf"/><stop offset="1.00" stop-color="#363aa7"/></linearGradient>
<linearGradient id="rg5" x1="0" y1="0" x2="0" y2="1"><stop offset="0.00" stop-color="#a1be6c"/><stop offset="0.12" stop-color="#55bd8e"/><stop offset="0.30" stop-color="#14b0b5"/><stop offset="0.60" stop-color="#118cd2"/><stop offset="0.88" stop-color="#0267e1"/><stop offset="1.00" stop-color="#363aa7"/></linearGradient>
<linearGradient id="tail" x1="0" y1="0" x2="0" y2="1"><stop offset="0" stop-color="#1b55d7"/><stop offset="1" stop-color="#352a87"/></linearGradient>
</defs>
<path d="M363.1 176.6 L366.2 175.6 L369.3 174.7 L372.4 173.7 L375.5 172.8 L378.7 172.0 L381.8 171.3 L384.9 170.6 L388.0 169.8 L391.1 169.1 L394.2 168.3 L397.3 167.6 L400.4 166.8 L403.5 166.1 L406.6 165.3 L409.8 164.6 L412.9 163.8 L416.0 163.1 L419.1 162.3 L422.2 161.6 L425.3 160.8 L428.4 160.1 L431.5 159.4 L434.6 158.7 L437.7 158.0 L440.9 157.3 L444.0 156.6 L447.1 155.8 L450.2 155.1 L453.3 154.4 L456.4 153.7 L459.5 153.0 L462.6 152.3 L465.7 151.5 L468.8 150.7 L471.9 149.8 L475.1 148.9 L478.2 148.0 L481.3 147.2 L484.4 146.3 L487.5 145.4 L489.5 151.4 L486.4 152.3 L483.3 153.2 L480.2 154.0 L477.1 154.9 L473.9 155.8 L470.8 156.7 L467.7 157.5 L464.6 158.3 L461.5 159.0 L458.4 159.7 L455.3 160.4 L452.2 161.1 L449.1 161.8 L446.0 162.6 L442.9 163.3 L439.7 164.0 L436.6 164.7 L433.5 165.4 L430.4 166.1 L427.3 166.8 L424.2 167.6 L421.1 168.3 L418.0 169.1 L414.9 169.8 L411.8 170.6 L408.6 171.3 L405.5 172.1 L402.4 172.8 L399.3 173.6 L396.2 174.3 L393.1 175.1 L390.0 175.8 L386.9 176.6 L383.8 177.3 L380.7 178.0 L377.5 178.8 L374.4 179.7 L371.3 180.7 L368.2 181.6 L365.1 182.6 z" fill="url(#tail)" opacity="0.35"/>
<path d="M362.6 180.6 L364.7 180.0 L366.7 179.3 L368.8 178.7 L370.9 178.1 L373.0 177.4 L375.0 176.8 L377.1 176.3 L379.2 175.8 L381.3 175.3 L383.3 174.8 L385.4 174.3 L387.5 173.8 L389.6 173.3 L391.6 172.8 L393.7 172.3 L395.8 171.8 L397.8 171.3 L399.9 170.8 L402.0 170.3 L404.1 169.8 L406.1 169.3 L408.2 168.8 L410.3 168.3 L412.4 167.8 L414.4 167.3 L416.5 166.8 L418.6 166.3 L420.7 165.8 L422.7 165.3 L424.8 164.8 L426.9 164.4 L428.9 163.9 L431.0 163.4 L433.1 162.9 L435.2 162.5 L437.2 162.0 L439.3 161.5 L441.4 161.0 L443.5 160.6 L445.5 160.1 L447.6 159.6 L449.7 159.1 L451.8 158.6 L453.8 158.2 L455.9 157.7 L458.0 157.2 L460.0 156.7 L462.1 156.3 L464.2 155.8 L466.3 155.2 L468.3 154.7 L470.4 154.1 L472.5 153.5 L474.6 152.9 L476.6 152.3 L478.7 151.7 L480.8 151.2 L482.9 150.6 L484.9 150.0 L487.0 149.4 L487.0 129.7 L484.9 130.3 L482.9 130.9 L480.8 131.5 L478.7 132.1 L476.6 132.7 L474.6 133.3 L472.5 133.9 L470.4 134.5 L468.3 135.1 L466.3 135.8 L464.2 136.9 L462.1 138.2 L460.0 138.8 L458.0 139.4 L455.9 139.9 L453.8 140.5 L451.8 141.1 L449.7 141.7 L447.6 142.2 L445.5 142.8 L443.5 143.4 L441.4 144.0 L439.3 144.5 L437.2 145.1 L435.2 145.7 L433.1 146.2 L431.0 146.8 L428.9 147.4 L426.9 148.0 L424.8 148.5 L422.7 149.1 L420.7 149.7 L418.6 150.3 L416.5 150.9 L414.4 151.4 L412.4 152.0 L410.3 152.6 L408.2 153.2 L406.1 153.8 L404.1 154.3 L402.0 154.9 L399.9 155.5 L397.8 156.1 L395.8 156.7 L393.7 157.2 L391.6 157.8 L389.6 158.4 L387.5 159.0 L385.4 159.6 L383.3 160.1 L381.3 160.7 L379.2 161.3 L377.1 161.9 L375.0 162.5 L373.0 163.1 L370.9 163.7 L368.8 164.3 L366.7 164.9 L364.7 165.5 L362.6 166.2 z" fill="#36369f"/>
<path d="M463.0 153.2L461.0 128.2L461.7 128.5L463.7 153.0z" fill="url(#rg5)"/>
<path d="M463.6 153.0L461.6 128.5L462.2 129.2L464.2 152.9z" fill="url(#rg5)"/>
<path d="M464.1 152.9L462.1 129.2L462.8 131.1L464.8 152.8z" fill="url(#rg4)"/>
<path d="M464.6 152.8L462.6 131.1L463.3 151.2L465.3 152.7z" fill="url(#rg0)"/>
<path d="M465.7 152.5L463.7 151.0L464.4 130.8L466.4 152.4z" fill="url(#rg0)"/>
<path d="M466.2 152.4L464.2 130.8L464.9 127.7L466.9 152.3z" fill="url(#rg4)"/>
<path d="M466.8 152.3L464.8 127.7L465.5 126.1L467.5 152.1z" fill="url(#rg5)"/>
<path d="M467.3 152.1L465.3 126.1L466.0 125.2L468.0 152.0z" fill="url(#rg5)"/>
<path d="M467.8 152.0L465.8 125.2L466.5 124.6L468.5 151.8z" fill="url(#rg5)"/>
<path d="M468.4 151.8L466.4 124.6L467.1 124.5L469.1 151.7z" fill="url(#rg5)"/>
<path d="M468.9 151.7L466.9 124.5L467.6 124.7L469.6 151.5z" fill="url(#rg5)"/>
<path d="M469.4 151.5L467.4 124.7L468.1 125.3L470.1 151.4z" fill="url(#rg5)"/>
<path d="M470.0 151.4L468.0 125.3L468.7 126.5L470.7 151.2z" fill="url(#rg5)"/>
<path d="M470.5 151.2L468.5 126.5L469.2 129.2L471.2 151.0z" fill="url(#rg4)"/>
<path d="M471.0 151.0L469.0 129.2L469.7 149.4L471.7 150.9z" fill="url(#rg0)"/>
<path d="M472.1 150.7L470.1 149.2L470.8 127.9L472.8 150.6z" fill="url(#rg0)"/>
<path d="M472.7 150.6L470.7 127.9L471.3 125.4L473.3 150.4z" fill="url(#rg4)"/>
<path d="M473.2 150.4L471.2 125.4L471.9 124.0L473.9 150.3z" fill="url(#rg5)"/>
<path d="M473.7 150.3L471.7 124.0L472.4 123.2L474.4 150.1z" fill="url(#rg5)"/>
<path d="M474.3 150.1L472.3 123.2L472.9 122.7L474.9 150.0z" fill="url(#rg5)"/>
<path d="M474.8 150.0L472.8 122.7L473.5 122.6L475.5 149.8z" fill="url(#rg5)"/>
<path d="M475.3 149.8L473.3 122.6L474.0 122.9L476.0 149.7z" fill="url(#rg5)"/>
<path d="M475.9 149.7L473.9 122.9L474.6 123.6L476.6 149.5z" fill="url(#rg5)"/>
<path d="M476.4 149.5L474.4 123.6L475.1 125.0L477.1 149.4z" fill="url(#rg5)"/>
<path d="M476.9 149.4L474.9 125.0L475.6 128.7L477.6 149.2z" fill="url(#rg4)"/>
<path d="M477.5 149.2L475.5 128.7L476.2 147.6L478.2 149.1z" fill="url(#rg0)"/>
<path d="M478.5 148.9L476.5 147.4L477.2 125.4L479.2 148.8z" fill="url(#rg4)"/>
<path d="M479.1 148.8L477.1 125.4L477.8 123.2L479.8 148.6z" fill="url(#rg4)"/>
<path d="M479.6 148.6L477.6 123.2L478.3 122.0L480.3 148.5z" fill="url(#rg5)"/>
<path d="M480.1 148.5L478.1 122.0L478.8 121.2L480.8 148.3z" fill="url(#rg5)"/>
<path d="M480.7 148.3L478.7 121.2L479.4 120.8L481.4 148.2z" fill="url(#rg5)"/>
<path d="M481.2 148.2L479.2 120.8L479.9 120.8L481.9 148.0z" fill="url(#rg5)"/>
<path d="M481.8 148.0L479.8 120.8L480.4 121.1L482.4 147.9z" fill="url(#rg5)"/>
<path d="M482.3 147.9L480.3 121.1L481.0 122.0L483.0 147.7z" fill="url(#rg5)"/>
<path d="M482.8 147.7L480.8 122.0L481.5 123.5L483.5 147.6z" fill="url(#rg5)"/>
<path d="M483.4 147.6L481.4 123.5L482.0 145.9L484.0 147.4z" fill="url(#rg4)"/>
<path d="M485.0 147.1L483.0 145.6L483.6 123.0L485.6 147.0z" fill="url(#rg4)"/>
<path d="M485.5 147.0L483.5 123.0L484.2 121.1L486.2 146.8z" fill="url(#rg5)"/>
<path d="M461.4 128.9L461.8 129.3L462.3 130.3L462.7 132.3" fill="none" stroke="#fdbe3e" stroke-width="1.20" stroke-linecap="round"/>
<path d="M461.6 131.4L462.0 131.5L462.4 131.9L462.7 132.5L463.1 133.5" fill="none" stroke="#d8ba56" stroke-width="0.85" stroke-linecap="round"/>
<path d="M464.2 131.3L464.7 128.6L465.1 127.1L465.5 126.2L466.0 125.5L466.4 125.2L466.9 125.0L467.3 125.1L467.7 125.5L468.2 126.2L468.6 127.4L469.0 129.7" fill="none" stroke="#fdbe3e" stroke-width="1.20" stroke-linecap="round"/>
<path d="M465.5 130.5L465.8 129.5L466.2 128.7L466.5 128.2L466.9 127.9L467.3 127.7L467.6 127.7L468.0 127.8L468.3 128.1L468.7 128.7L469.0 129.5L469.4 130.7" fill="none" stroke="#d8ba56" stroke-width="0.85" stroke-linecap="round"/>
<path d="M470.6 129.2L471.0 126.7L471.4 125.2L471.9 124.3L472.3 123.7L472.7 123.3L473.2 123.2L473.6 123.3L474.1 123.6L474.5 124.3L474.9 125.5L475.4 127.8" fill="none" stroke="#fdbe3e" stroke-width="1.20" stroke-linecap="round"/>
<path d="M471.8 128.6L472.1 127.6L472.5 126.9L472.9 126.4L473.2 126.0L473.6 125.9L473.9 125.8L474.3 126.0L474.6 126.3L475.0 126.8L475.4 127.6L475.7 128.9" fill="none" stroke="#d8ba56" stroke-width="0.85" stroke-linecap="round"/>
<path d="M476.9 127.4L477.3 124.8L477.8 123.4L478.2 122.4L478.6 121.8L479.1 121.4L479.5 121.3L479.9 121.4L480.4 121.8L480.8 122.5L481.2 123.6L481.7 126.0" fill="none" stroke="#fdbe3e" stroke-width="1.20" stroke-linecap="round"/>
<path d="M478.1 126.7L478.5 125.7L478.8 125.0L479.2 124.5L479.5 124.2L479.9 124.0L480.2 124.0L480.6 124.1L481.0 124.4L481.3 124.9L481.7 125.8L482.0 127.0" fill="none" stroke="#d8ba56" stroke-width="0.85" stroke-linecap="round"/>
<path d="M483.2 125.5L483.6 122.9" fill="none" stroke="#fdbe3e" stroke-width="1.20" stroke-linecap="round"/>
<path d="M363.6 178.1L361.6 162.8L362.3 176.4L364.3 177.9z" fill="url(#rg0)"/>
<path d="M364.7 177.8L362.7 176.3L363.3 162.8L365.3 177.6z" fill="url(#rg0)"/>
<path d="M365.2 177.6L363.2 162.8L363.9 160.8L365.9 177.4z" fill="url(#rg4)"/>
<path d="M365.7 177.4L363.7 160.8L364.4 159.8L366.4 177.3z" fill="url(#rg5)"/>
<path d="M366.3 177.3L364.3 159.8L364.9 159.1L366.9 177.1z" fill="url(#rg5)"/>
<path d="M366.8 177.1L364.8 159.1L365.5 158.7L367.5 177.0z" fill="url(#rg5)"/>
<path d="M367.3 177.0L365.3 158.7L366.0 158.6L368.0 176.8z" fill="url(#rg5)"/>
<path d="M367.9 176.8L365.9 158.6L366.5 158.6L368.5 176.6z" fill="url(#rg5)"/>
<path d="M368.4 176.6L366.4 158.6L367.1 159.0L369.1 176.5z" fill="url(#rg5)"/>
<path d="M368.9 176.5L366.9 159.0L367.6 159.7L369.6 176.3z" fill="url(#rg5)"/>
<path d="M369.5 176.3L367.5 159.7L368.1 161.3L370.1 176.1z" fill="url(#rg4)"/>
<path d="M370.0 176.1L368.0 161.3L368.7 174.5L370.7 176.0z" fill="url(#rg0)"/>
<path d="M371.1 175.8L369.1 174.3L369.7 160.5L371.7 175.6z" fill="url(#rg0)"/>
<path d="M371.6 175.6L369.6 160.5L370.3 158.8L372.3 175.5z" fill="url(#rg4)"/>
<path d="M372.1 175.5L370.1 158.8L370.8 157.8L372.8 175.3z" fill="url(#rg5)"/>
<path d="M372.7 175.3L370.7 157.8L371.3 157.2L373.3 175.2z" fill="url(#rg5)"/>
<path d="M373.2 175.2L371.2 157.2L371.9 156.8L373.9 175.0z" fill="url(#rg5)"/>
<path d="M373.7 175.0L371.7 156.8L372.4 156.7L374.4 174.8z" fill="url(#rg5)"/>
<path d="M374.3 174.8L372.3 156.7L372.9 156.8L374.9 174.7z" fill="url(#rg5)"/>
<path d="M374.8 174.7L372.8 156.8L373.5 157.2L375.5 174.5z" fill="url(#rg5)"/>
<path d="M375.3 174.5L373.3 157.2L374.0 158.0L376.0 174.3z" fill="url(#rg5)"/>
<path d="M375.9 174.3L373.9 158.0L374.5 160.0L376.5 174.2z" fill="url(#rg4)"/>
<path d="M376.4 174.2L374.4 160.0L375.1 172.6L377.1 174.1z" fill="url(#rg0)"/>
<path d="M377.5 173.9L375.5 172.4L376.1 158.3L378.1 173.8z" fill="url(#rg4)"/>
<path d="M378.0 173.8L376.0 158.3L376.7 156.7L378.7 173.7z" fill="url(#rg4)"/>
<path d="M378.5 173.7L376.5 156.7L377.2 155.8L379.2 173.6z" fill="url(#rg5)"/>
<path d="M379.1 173.6L377.1 155.8L377.7 155.3L379.7 173.4z" fill="url(#rg5)"/>
<path d="M379.6 173.4L377.6 155.3L378.3 154.9L380.3 173.3z" fill="url(#rg5)"/>
<path d="M380.1 173.3L378.1 154.9L378.8 154.9L380.8 173.2z" fill="url(#rg5)"/>
<path d="M380.7 173.2L378.7 154.9L379.3 155.0L381.3 173.1z" fill="url(#rg5)"/>
<path d="M381.2 173.1L379.2 155.0L379.9 155.4L381.9 172.9z" fill="url(#rg5)"/>
<path d="M381.7 172.9L379.7 155.4L380.4 156.3L382.4 172.8z" fill="url(#rg5)"/>
<path d="M382.3 172.8L380.3 156.3L380.9 171.2L382.9 172.7z" fill="url(#rg4)"/>
<path d="M383.9 172.4L381.9 170.9L382.5 156.2L384.5 172.3z" fill="url(#rg4)"/>
<path d="M384.4 172.3L382.4 156.2L383.1 154.8L385.1 172.2z" fill="url(#rg4)"/>
<path d="M384.9 172.2L382.9 154.8L383.6 153.9L385.6 172.0z" fill="url(#rg5)"/>
<path d="M385.5 172.0L383.5 153.9L384.1 153.4L386.1 171.9z" fill="url(#rg5)"/>
<path d="M386.0 171.9L384.0 153.4L384.7 153.1L386.7 171.8z" fill="url(#rg5)"/>
<path d="M386.5 171.8L384.5 153.1L385.2 153.0L387.2 171.6z" fill="url(#rg5)"/>
<path d="M387.1 171.6L385.1 153.0L385.7 153.2L387.7 171.5z" fill="url(#rg5)"/>
<path d="M387.6 171.5L385.6 153.2L386.3 153.7L388.3 171.4z" fill="url(#rg5)"/>
<path d="M388.1 171.4L386.1 153.7L386.8 154.7L388.8 171.3z" fill="url(#rg5)"/>
<path d="M388.7 171.3L386.7 154.7L387.3 169.6L389.3 171.1z" fill="url(#rg4)"/>
<path d="M390.3 170.9L388.3 169.4L388.9 154.2L390.9 170.8z" fill="url(#rg4)"/>
<path d="M390.8 170.8L388.8 154.2L389.5 152.8L391.5 170.6z" fill="url(#rg5)"/>
<path d="M391.3 170.6L389.3 152.8L390.0 152.0L392.0 170.5z" fill="url(#rg5)"/>
<path d="M391.9 170.5L389.9 152.0L390.5 151.5L392.5 170.4z" fill="url(#rg5)"/>
<path d="M392.4 170.4L390.4 151.5L391.1 151.2L393.1 170.2z" fill="url(#rg5)"/>
<path d="M392.9 170.2L390.9 151.2L391.6 151.2L393.6 170.1z" fill="url(#rg5)"/>
<path d="M393.5 170.1L391.5 151.2L392.1 151.5L394.1 170.0z" fill="url(#rg5)"/>
<path d="M394.0 170.0L392.0 151.5L392.7 152.0L394.7 169.9z" fill="url(#rg5)"/>
<path d="M394.5 169.9L392.5 152.0L393.2 153.2L395.2 169.7z" fill="url(#rg4)"/>
<path d="M395.1 169.7L393.1 153.2L393.7 168.1L395.7 169.6z" fill="url(#rg4)"/>
<path d="M396.7 169.3L394.7 167.8L395.3 152.1L397.3 169.2z" fill="url(#rg4)"/>
<path d="M397.2 169.2L395.2 152.1L395.9 150.9L397.9 169.1z" fill="url(#rg5)"/>
<path d="M397.7 169.1L395.7 150.9L396.4 150.1L398.4 169.0z" fill="url(#rg5)"/>
<path d="M398.3 169.0L396.3 150.1L396.9 149.6L398.9 168.8z" fill="url(#rg5)"/>
<path d="M398.8 168.8L396.8 149.6L397.5 149.4L399.5 168.7z" fill="url(#rg5)"/>
<path d="M399.3 168.7L397.3 149.4L398.0 149.4L400.0 168.6z" fill="url(#rg5)"/>
<path d="M399.9 168.6L397.9 149.4L398.5 149.7L400.5 168.4z" fill="url(#rg5)"/>
<path d="M400.4 168.4L398.4 149.7L399.1 150.3L401.1 168.3z" fill="url(#rg5)"/>
<path d="M363.2 163.3L363.6 161.6L364.1 160.7L364.5 160.0L364.9 159.5L365.4 159.3L365.8 159.1L366.3 159.2L366.7 159.3L367.1 159.7L367.6 160.5L368.0 161.9" fill="none" stroke="#fdbe3e" stroke-width="1.20" stroke-linecap="round"/>
<path d="M364.4 163.8L364.8 163.1L365.1 162.6L365.5 162.2L365.9 162.0L366.2 161.8L366.6 161.8L366.9 161.8L367.3 162.0L367.6 162.3L368.0 162.8L368.4 163.6" fill="none" stroke="#d8ba56" stroke-width="0.85" stroke-linecap="round"/>
<path d="M369.5 161.5L370.0 159.7L370.4 158.8L370.8 158.1L371.3 157.7L371.7 157.4L372.1 157.3L372.6 157.3L373.0 157.5L373.5 157.9L373.9 158.6L374.3 160.0" fill="none" stroke="#fdbe3e" stroke-width="1.20" stroke-linecap="round"/>
<path d="M370.8 161.9L371.1 161.2L371.5 160.7L371.8 160.4L372.2 160.1L372.5 159.9L372.9 159.9L373.2 159.9L373.6 160.1L374.0 160.4L374.3 160.9L374.7 161.7" fill="none" stroke="#d8ba56" stroke-width="0.85" stroke-linecap="round"/>
<path d="M375.8 159.6L376.3 157.9L376.7 156.9L377.2 156.3L377.6 155.8L378.0 155.5L378.5 155.4L378.9 155.4L379.3 155.6L379.8 156.1L380.2 156.8L380.6 158.3" fill="none" stroke="#fdbe3e" stroke-width="1.20" stroke-linecap="round"/>
<path d="M377.1 160.1L377.4 159.4L377.8 158.9L378.1 158.5L378.5 158.3L378.9 158.1L379.2 158.1L379.6 158.1L379.9 158.3L380.3 158.6L380.6 159.1L381.0 159.9" fill="none" stroke="#d8ba56" stroke-width="0.85" stroke-linecap="round"/>
<path d="M382.2 157.8L382.6 156.1L383.0 155.1L383.5 154.4L383.9 154.0L384.3 153.7L384.8 153.6L385.2 153.6L385.7 153.8L386.1 154.2L386.5 155.0L387.0 156.5" fill="none" stroke="#fdbe3e" stroke-width="1.20" stroke-linecap="round"/>
<path d="M383.4 158.3L383.8 157.6L384.1 157.1L384.5 156.7L384.8 156.4L385.2 156.3L385.5 156.2L385.9 156.3L386.2 156.5L386.6 156.8L387.0 157.3L387.3 158.1" fill="none" stroke="#d8ba56" stroke-width="0.85" stroke-linecap="round"/>
<path d="M388.5 156.1L388.9 154.3L389.4 153.3L389.8 152.6L390.2 152.2L390.7 151.9L391.1 151.8L391.5 151.8L392.0 152.0L392.4 152.4L392.9 153.2L393.3 154.7" fill="none" stroke="#fdbe3e" stroke-width="1.20" stroke-linecap="round"/>
<path d="M389.7 156.5L390.1 155.8L390.4 155.2L390.8 154.9L391.1 154.6L391.5 154.4L391.9 154.4L392.2 154.5L392.6 154.6L392.9 155.0L393.3 155.5L393.6 156.3" fill="none" stroke="#d8ba56" stroke-width="0.85" stroke-linecap="round"/>
<path d="M394.8 154.3L395.2 152.5L395.7 151.5L396.1 150.8L396.6 150.3L397.0 150.1L397.4 149.9L397.9 150.0L398.3 150.2L398.7 150.6" fill="none" stroke="#fdbe3e" stroke-width="1.20" stroke-linecap="round"/>
<path d="M396.0 154.7L396.4 153.9L396.7 153.4L397.1 153.0L397.5 152.8L397.8 152.6L398.2 152.6L398.5 152.6L398.9 152.8L399.2 153.2" fill="none" stroke="#d8ba56" stroke-width="0.85" stroke-linecap="round"/>
<path d="M364.6 181.1L362.6 161.3L363.3 160.8L365.3 180.9z" fill="url(#rg5)"/>
<path d="M365.1 180.9L363.1 160.8L363.8 160.7L365.8 180.8z" fill="url(#rg5)"/>
<path d="M365.7 180.8L363.7 160.7L364.3 160.7L366.3 180.6z" fill="url(#rg5)"/>
<path d="M366.2 180.6L364.2 160.7L364.9 161.1L366.9 180.5z" fill="url(#rg5)"/>
<path d="M366.7 180.5L364.7 161.1L365.4 161.8L367.4 180.3z" fill="url(#rg5)"/>
<path d="M367.2 180.3L365.2 161.8L365.9 163.4L367.9 180.1z" fill="url(#rg4)"/>
<path d="M367.8 180.1L365.8 163.4L366.4 178.5L368.4 180.0z" fill="url(#rg0)"/>
<path d="M368.8 179.8L366.8 178.3L367.5 163.5L369.5 179.6z" fill="url(#rg0)"/>
<path d="M369.3 179.6L367.3 163.5L368.0 161.3L370.0 179.5z" fill="url(#rg4)"/>
<path d="M369.9 179.5L367.9 161.3L368.5 160.1L370.5 179.3z" fill="url(#rg5)"/>
<path d="M370.4 179.3L368.4 160.1L369.1 159.4L371.1 179.2z" fill="url(#rg5)"/>
<path d="M370.9 179.2L368.9 159.4L369.6 159.0L371.6 179.0z" fill="url(#rg5)"/>
<path d="M371.5 179.0L369.5 159.0L370.1 158.8L372.1 178.8z" fill="url(#rg5)"/>
<path d="M372.0 178.8L370.0 158.8L370.7 158.9L372.7 178.7z" fill="url(#rg5)"/>
<path d="M372.5 178.7L370.5 158.9L371.2 159.2L373.2 178.5z" fill="url(#rg5)"/>
<path d="M373.0 178.5L371.0 159.2L371.7 160.0L373.7 178.4z" fill="url(#rg5)"/>
<path d="M373.6 178.4L371.6 160.0L372.2 161.5L374.2 178.2z" fill="url(#rg4)"/>
<path d="M374.1 178.2L372.1 161.5L372.8 176.5L374.8 178.0z" fill="url(#rg0)"/>
<path d="M375.1 177.9L373.1 176.4L373.8 161.6L375.8 177.7z" fill="url(#rg0)"/>
<path d="M375.7 177.7L373.7 161.6L374.3 159.4L376.3 177.5z" fill="url(#rg4)"/>
<path d="M376.2 177.5L374.2 159.4L374.9 158.2L376.9 177.4z" fill="url(#rg5)"/>
<path d="M376.7 177.4L374.7 158.2L375.4 157.5L377.4 177.2z" fill="url(#rg5)"/>
<path d="M377.3 177.2L375.3 157.5L375.9 157.1L377.9 177.1z" fill="url(#rg5)"/>
<path d="M377.8 177.1L375.8 157.1L376.5 156.9L378.5 177.0z" fill="url(#rg5)"/>
<path d="M378.3 177.0L376.3 156.9L377.0 157.0L379.0 176.9z" fill="url(#rg5)"/>
<path d="M378.8 176.9L376.8 157.0L377.5 157.4L379.5 176.7z" fill="url(#rg5)"/>
<path d="M379.4 176.7L377.4 157.4L378.0 158.1L380.0 176.6z" fill="url(#rg5)"/>
<path d="M379.9 176.6L377.9 158.1L378.6 159.7L380.6 176.5z" fill="url(#rg4)"/>
<path d="M380.4 176.5L378.4 159.7L379.1 174.9L381.1 176.4z" fill="url(#rg0)"/>
<path d="M381.5 176.2L379.5 174.7L380.1 159.7L382.1 176.1z" fill="url(#rg0)"/>
<path d="M382.0 176.1L380.0 159.7L380.7 157.5L382.7 176.0z" fill="url(#rg4)"/>
<path d="M382.5 176.0L380.5 157.5L381.2 156.4L383.2 175.8z" fill="url(#rg5)"/>
<path d="M383.0 175.8L381.0 156.4L381.7 155.7L383.7 175.7z" fill="url(#rg5)"/>
<path d="M383.6 175.7L381.6 155.7L382.3 155.2L384.3 175.6z" fill="url(#rg5)"/>
<path d="M384.1 175.6L382.1 155.2L382.8 155.1L384.8 175.5z" fill="url(#rg5)"/>
<path d="M384.6 175.5L382.6 155.1L383.3 155.1L385.3 175.3z" fill="url(#rg5)"/>
<path d="M385.2 175.3L383.2 155.1L383.8 155.5L385.8 175.2z" fill="url(#rg5)"/>
<path d="M385.7 175.2L383.7 155.5L384.4 156.3L386.4 175.1z" fill="url(#rg5)"/>
<path d="M386.2 175.1L384.2 156.3L384.9 157.9L386.9 175.0z" fill="url(#rg4)"/>
<path d="M386.7 175.0L384.7 157.9L385.4 173.3L387.4 174.8z" fill="url(#rg0)"/>
<path d="M387.8 174.7L385.8 173.2L386.5 157.9L388.5 174.6z" fill="url(#rg0)"/>
<path d="M388.3 174.6L386.3 157.9L387.0 155.7L389.0 174.5z" fill="url(#rg4)"/>
<path d="M388.8 174.5L386.8 155.7L387.5 154.5L389.5 174.3z" fill="url(#rg5)"/>
<path d="M389.4 174.3L387.4 154.5L388.1 153.8L390.1 174.2z" fill="url(#rg5)"/>
<path d="M389.9 174.2L387.9 153.8L388.6 153.4L390.6 174.1z" fill="url(#rg5)"/>
<path d="M390.4 174.1L388.4 153.4L389.1 153.2L391.1 174.0z" fill="url(#rg5)"/>
<path d="M391.0 174.0L389.0 153.2L389.6 153.3L391.6 173.8z" fill="url(#rg5)"/>
<path d="M391.5 173.8L389.5 153.3L390.2 153.7L392.2 173.7z" fill="url(#rg5)"/>
<path d="M392.0 173.7L390.0 153.7L390.7 154.5L392.7 173.6z" fill="url(#rg5)"/>
<path d="M392.5 173.6L390.5 154.5L391.2 156.2L393.2 173.4z" fill="url(#rg4)"/>
<path d="M393.1 173.4L391.1 156.2L391.7 171.8L393.7 173.3z" fill="url(#rg0)"/>
<path d="M394.1 173.2L392.1 171.7L392.8 156.1L394.8 173.1z" fill="url(#rg0)"/>
<path d="M394.6 173.1L392.6 156.1L393.3 153.8L395.3 172.9z" fill="url(#rg4)"/>
<path d="M395.2 172.9L393.2 153.8L393.9 152.7L395.9 172.8z" fill="url(#rg5)"/>
<path d="M395.7 172.8L393.7 152.7L394.4 151.9L396.4 172.7z" fill="url(#rg5)"/>
<path d="M396.2 172.7L394.2 151.9L394.9 151.5L396.9 172.6z" fill="url(#rg5)"/>
<path d="M396.8 172.6L394.8 151.5L395.4 151.3L397.4 172.4z" fill="url(#rg5)"/>
<path d="M397.3 172.4L395.3 151.3L396.0 151.4L398.0 172.3z" fill="url(#rg5)"/>
<path d="M397.8 172.3L395.8 151.4L396.5 151.8L398.5 172.2z" fill="url(#rg5)"/>
<path d="M398.3 172.2L396.3 151.8L397.0 152.6L399.0 172.1z" fill="url(#rg5)"/>
<path d="M398.9 172.1L396.9 152.6L397.5 154.4L399.5 171.9z" fill="url(#rg4)"/>
<path d="M399.4 171.9L397.4 154.4L398.1 170.3L400.1 171.8z" fill="url(#rg0)"/>
<path d="M400.4 171.7L398.4 170.2L399.1 154.3L401.1 171.5z" fill="url(#rg0)"/>
<path d="M401.0 171.5L399.0 154.3L399.6 152.0L401.6 171.4z" fill="url(#rg4)"/>
<path d="M401.5 171.4L399.5 152.0L400.2 150.8L402.2 171.3z" fill="url(#rg5)"/>
<path d="M402.0 171.3L400.0 150.8L400.7 150.1L402.7 171.2z" fill="url(#rg5)"/>
<path d="M402.6 171.2L400.6 150.1L401.2 149.6L403.2 171.0z" fill="url(#rg5)"/>
<path d="M403.1 171.0L401.1 149.6L401.8 149.5L403.8 170.9z" fill="url(#rg5)"/>
<path d="M403.6 170.9L401.6 149.5L402.3 149.6L404.3 170.8z" fill="url(#rg5)"/>
<path d="M404.1 170.8L402.1 149.6L402.8 150.0L404.8 170.7z" fill="url(#rg5)"/>
<path d="M404.7 170.7L402.7 150.0L403.3 150.8L405.3 170.5z" fill="url(#rg5)"/>
<path d="M405.2 170.5L403.2 150.8L403.9 152.6L405.9 170.4z" fill="url(#rg4)"/>
<path d="M405.7 170.4L403.7 152.6L404.4 168.8L406.4 170.3z" fill="url(#rg0)"/>
<path d="M406.8 170.2L404.8 168.7L405.4 152.4L407.4 170.0z" fill="url(#rg0)"/>
<path d="M407.3 170.0L405.3 152.4L406.0 150.2L408.0 169.9z" fill="url(#rg4)"/>
<path d="M407.8 169.9L405.8 150.2L406.5 149.0L408.5 169.8z" fill="url(#rg5)"/>
<path d="M408.4 169.8L406.4 149.0L407.0 148.2L409.0 169.6z" fill="url(#rg5)"/>
<path d="M408.9 169.6L406.9 148.2L407.6 147.8L409.6 169.5z" fill="url(#rg5)"/>
<path d="M409.4 169.5L407.4 147.8L408.1 147.6L410.1 169.4z" fill="url(#rg5)"/>
<path d="M409.9 169.4L407.9 147.6L408.6 147.7L410.6 169.3z" fill="url(#rg5)"/>
<path d="M410.5 169.3L408.5 147.7L409.1 148.1L411.1 169.1z" fill="url(#rg5)"/>
<path d="M411.0 169.1L409.0 148.1L409.7 149.0L411.7 169.0z" fill="url(#rg5)"/>
<path d="M411.5 169.0L409.5 149.0L410.2 150.8L412.2 168.9z" fill="url(#rg4)"/>
<path d="M412.0 168.9L410.0 150.8L410.7 167.3L412.7 168.8z" fill="url(#rg0)"/>
<path d="M413.1 168.6L411.1 167.1L411.8 150.6L413.8 168.5z" fill="url(#rg0)"/>
<path d="M413.6 168.5L411.6 150.6L412.3 148.3L414.3 168.4z" fill="url(#rg4)"/>
<path d="M414.1 168.4L412.1 148.3L412.8 147.1L414.8 168.3z" fill="url(#rg5)"/>
<path d="M414.7 168.3L412.7 147.1L413.4 146.3L415.4 168.1z" fill="url(#rg5)"/>
<path d="M415.2 168.1L413.2 146.3L413.9 145.9L415.9 168.0z" fill="url(#rg5)"/>
<path d="M415.7 168.0L413.7 145.9L414.4 145.7L416.4 167.9z" fill="url(#rg5)"/>
<path d="M416.3 167.9L414.3 145.7L414.9 145.8L416.9 167.8z" fill="url(#rg5)"/>
<path d="M416.8 167.8L414.8 145.8L415.5 146.3L417.5 167.6z" fill="url(#rg5)"/>
<path d="M417.3 167.6L415.3 146.3L416.0 147.2L418.0 167.5z" fill="url(#rg5)"/>
<path d="M417.8 167.5L415.8 147.2L416.5 149.1L418.5 167.4z" fill="url(#rg4)"/>
<path d="M418.4 167.4L416.4 149.1L417.0 165.7L419.0 167.2z" fill="url(#rg0)"/>
<path d="M419.4 167.1L417.4 165.6L418.1 148.8L420.1 167.0z" fill="url(#rg0)"/>
<path d="M419.9 167.0L417.9 148.8L418.6 146.5L420.6 166.9z" fill="url(#rg4)"/>
<path d="M420.5 166.9L418.5 146.5L419.2 145.2L421.2 166.7z" fill="url(#rg5)"/>
<path d="M421.0 166.7L419.0 145.2L419.7 144.5L421.7 166.6z" fill="url(#rg5)"/>
<path d="M421.5 166.6L419.5 144.5L420.2 144.0L422.2 166.5z" fill="url(#rg5)"/>
<path d="M422.1 166.5L420.1 144.0L420.7 143.9L422.7 166.4z" fill="url(#rg5)"/>
<path d="M422.6 166.4L420.6 143.9L421.3 144.0L423.3 166.2z" fill="url(#rg5)"/>
<path d="M423.1 166.2L421.1 144.0L421.8 144.4L423.8 166.1z" fill="url(#rg5)"/>
<path d="M423.6 166.1L421.6 144.4L422.3 145.3L424.3 166.0z" fill="url(#rg5)"/>
<path d="M424.2 166.0L422.2 145.3L422.8 147.3L424.8 165.9z" fill="url(#rg4)"/>
<path d="M424.7 165.9L422.7 147.3L423.4 164.2L425.4 165.7z" fill="url(#rg0)"/>
<path d="M425.7 165.6L423.7 164.1L424.4 147.0L426.4 165.5z" fill="url(#rg0)"/>
<path d="M426.3 165.5L424.3 147.0L424.9 144.6L426.9 165.3z" fill="url(#rg4)"/>
<path d="M426.8 165.3L424.8 144.6L425.5 143.4L427.5 165.2z" fill="url(#rg5)"/>
<path d="M427.3 165.2L425.3 143.4L426.0 142.6L428.0 165.1z" fill="url(#rg5)"/>
<path d="M427.9 165.1L425.9 142.6L426.5 142.2L428.5 165.0z" fill="url(#rg5)"/>
<path d="M428.4 165.0L426.4 142.2L427.1 142.0L429.1 164.9z" fill="url(#rg5)"/>
<path d="M428.9 164.9L426.9 142.0L427.6 142.1L429.6 164.7z" fill="url(#rg5)"/>
<path d="M429.4 164.7L427.4 142.1L428.1 142.6L430.1 164.6z" fill="url(#rg5)"/>
<path d="M430.0 164.6L428.0 142.6L428.6 143.5L430.6 164.5z" fill="url(#rg5)"/>
<path d="M430.5 164.5L428.5 143.5L429.2 145.5L431.2 164.4z" fill="url(#rg4)"/>
<path d="M431.0 164.4L429.0 145.5L429.7 162.8L431.7 164.3z" fill="url(#rg0)"/>
<path d="M432.1 164.1L430.1 162.6L430.7 145.1L432.7 164.0z" fill="url(#rg0)"/>
<path d="M432.6 164.0L430.6 145.1L431.3 142.8L433.3 163.9z" fill="url(#rg4)"/>
<path d="M433.1 163.9L431.1 142.8L431.8 141.5L433.8 163.8z" fill="url(#rg5)"/>
<path d="M433.7 163.8L431.7 141.5L432.3 140.7L434.3 163.6z" fill="url(#rg5)"/>
<path d="M434.2 163.6L432.2 140.7L432.9 140.3L434.9 163.5z" fill="url(#rg5)"/>
<path d="M434.7 163.5L432.7 140.3L433.4 140.1L435.4 163.4z" fill="url(#rg5)"/>
<path d="M435.2 163.4L433.2 140.1L433.9 140.3L435.9 163.3z" fill="url(#rg5)"/>
<path d="M435.8 163.3L433.8 140.3L434.4 140.8L436.4 163.2z" fill="url(#rg5)"/>
<path d="M436.3 163.2L434.3 140.8L435.0 141.7L437.0 163.0z" fill="url(#rg5)"/>
<path d="M436.8 163.0L434.8 141.7L435.5 143.8L437.5 162.9z" fill="url(#rg4)"/>
<path d="M437.3 162.9L435.3 143.8L436.0 161.3L438.0 162.8z" fill="url(#rg0)"/>
<path d="M438.4 162.7L436.4 161.2L437.1 143.3L439.1 162.6z" fill="url(#rg0)"/>
<path d="M438.9 162.6L436.9 143.3L437.6 141.0L439.6 162.4z" fill="url(#rg4)"/>
<path d="M439.5 162.4L437.5 141.0L438.1 139.7L440.1 162.3z" fill="url(#rg5)"/>
<path d="M440.0 162.3L438.0 139.7L438.7 138.9L440.7 162.2z" fill="url(#rg5)"/>
<path d="M440.5 162.2L438.5 138.9L439.2 138.4L441.2 162.1z" fill="url(#rg5)"/>
<path d="M441.0 162.1L439.0 138.4L439.7 138.3L441.7 162.0z" fill="url(#rg5)"/>
<path d="M441.6 162.0L439.6 138.3L440.2 138.4L442.2 161.8z" fill="url(#rg5)"/>
<path d="M442.1 161.8L440.1 138.4L440.8 138.9L442.8 161.7z" fill="url(#rg5)"/>
<path d="M442.6 161.7L440.6 138.9L441.3 139.9L443.3 161.6z" fill="url(#rg5)"/>
<path d="M443.1 161.6L441.1 139.9L441.8 142.0L443.8 161.5z" fill="url(#rg4)"/>
<path d="M443.7 161.5L441.7 142.0L442.3 159.8L444.3 161.3z" fill="url(#rg0)"/>
<path d="M444.7 161.2L442.7 159.7L443.4 141.5L445.4 161.1z" fill="url(#rg0)"/>
<path d="M445.2 161.1L443.2 141.5L443.9 139.1L445.9 161.0z" fill="url(#rg4)"/>
<path d="M445.8 161.0L443.8 139.1L444.5 137.8L446.5 160.9z" fill="url(#rg5)"/>
<path d="M446.3 160.9L444.3 137.8L445.0 137.0L447.0 160.7z" fill="url(#rg5)"/>
<path d="M446.8 160.7L444.8 137.0L445.5 136.6L447.5 160.6z" fill="url(#rg5)"/>
<path d="M447.4 160.6L445.4 136.6L446.0 136.4L448.0 160.5z" fill="url(#rg5)"/>
<path d="M447.9 160.5L445.9 136.4L446.6 136.6L448.6 160.4z" fill="url(#rg5)"/>
<path d="M448.4 160.4L446.4 136.6L447.1 137.1L449.1 160.3z" fill="url(#rg5)"/>
<path d="M448.9 160.3L446.9 137.1L447.6 138.1L449.6 160.1z" fill="url(#rg5)"/>
<path d="M449.5 160.1L447.5 138.1L448.1 140.3L450.1 160.0z" fill="url(#rg4)"/>
<path d="M450.0 160.0L448.0 140.3L448.7 158.4L450.7 159.9z" fill="url(#rg0)"/>
<path d="M451.0 159.8L449.0 158.3L449.7 139.7L451.7 159.6z" fill="url(#rg0)"/>
<path d="M451.6 159.6L449.6 139.7L450.3 137.3L452.3 159.5z" fill="url(#rg4)"/>
<path d="M452.1 159.5L450.1 137.3L450.8 136.0L452.8 159.4z" fill="url(#rg5)"/>
<path d="M452.6 159.4L450.6 136.0L451.3 135.2L453.3 159.3z" fill="url(#rg5)"/>
<path d="M453.2 159.3L451.2 135.2L451.8 134.7L453.8 159.2z" fill="url(#rg5)"/>
<path d="M453.7 159.2L451.7 134.7L452.4 134.5L454.4 159.0z" fill="url(#rg5)"/>
<path d="M454.2 159.0L452.2 134.5L452.9 134.7L454.9 158.9z" fill="url(#rg5)"/>
<path d="M454.7 158.9L452.7 134.7L453.4 135.2L455.4 158.8z" fill="url(#rg5)"/>
<path d="M455.3 158.8L453.3 135.2L453.9 136.3L455.9 158.7z" fill="url(#rg5)"/>
<path d="M455.8 158.7L453.8 136.3L454.5 138.5L456.5 158.6z" fill="url(#rg4)"/>
<path d="M456.3 158.6L454.3 138.5L455.0 156.9L457.0 158.4z" fill="url(#rg0)"/>
<path d="M457.4 158.3L455.4 156.8L456.0 137.9L458.0 158.2z" fill="url(#rg0)"/>
<path d="M457.9 158.2L455.9 137.9L456.6 135.4L458.6 158.1z" fill="url(#rg4)"/>
<path d="M458.4 158.1L456.4 135.4L457.1 134.1L459.1 158.0z" fill="url(#rg5)"/>
<path d="M459.0 158.0L457.0 134.1L457.6 133.3L459.6 157.8z" fill="url(#rg5)"/>
<path d="M459.5 157.8L457.5 133.3L458.2 132.8L460.2 157.7z" fill="url(#rg5)"/>
<path d="M460.0 157.7L458.0 132.8L458.7 132.7L460.7 157.6z" fill="url(#rg5)"/>
<path d="M460.5 157.6L458.5 132.7L459.2 132.9L461.2 157.5z" fill="url(#rg5)"/>
<path d="M461.1 157.5L459.1 132.9L459.7 133.4L461.7 157.3z" fill="url(#rg5)"/>
<path d="M461.6 157.3L459.6 133.4L460.3 134.5L462.3 157.2z" fill="url(#rg5)"/>
<path d="M462.1 157.2L460.1 134.5L460.8 136.8L462.8 157.1z" fill="url(#rg4)"/>
<path d="M462.6 157.1L460.6 136.8L461.3 155.5L463.3 157.0z" fill="url(#rg0)"/>
<path d="M463.7 156.9L461.7 155.4L462.4 136.0L464.4 156.7z" fill="url(#rg0)"/>
<path d="M464.2 156.7L462.2 136.0L462.9 133.3L464.9 156.6z" fill="url(#rg4)"/>
<path d="M464.8 156.6L462.8 133.3L463.4 131.7L465.4 156.5z" fill="url(#rg5)"/>
<path d="M465.3 156.5L463.3 131.7L464.0 130.6L466.0 156.4z" fill="url(#rg5)"/>
<path d="M465.8 156.4L463.8 130.6L464.5 129.9L466.5 156.3z" fill="url(#rg5)"/>
<path d="M466.3 156.3L464.3 129.9L465.0 129.5L467.0 156.1z" fill="url(#rg5)"/>
<path d="M466.9 156.1L464.9 129.5L465.5 129.5L467.5 156.0z" fill="url(#rg5)"/>
<path d="M467.4 156.0L465.4 129.5L466.1 129.9L468.1 155.8z" fill="url(#rg5)"/>
<path d="M467.9 155.8L465.9 129.9L466.6 131.0L468.6 155.7z" fill="url(#rg5)"/>
<path d="M468.4 155.7L466.4 131.0L467.1 133.6L469.1 155.5z" fill="url(#rg4)"/>
<path d="M469.0 155.5L467.0 133.6L467.6 153.9L469.6 155.4z" fill="url(#rg0)"/>
<path d="M470.0 155.2L468.0 153.7L468.7 132.7L470.7 155.1z" fill="url(#rg0)"/>
<path d="M470.6 155.1L468.6 132.7L469.2 130.1L471.2 155.0z" fill="url(#rg4)"/>
<path d="M471.1 155.0L469.1 130.1L469.8 128.7L471.8 154.8z" fill="url(#rg5)"/>
<path d="M471.6 154.8L469.6 128.7L470.3 127.8L472.3 154.7z" fill="url(#rg5)"/>
<path d="M472.1 154.7L470.1 127.8L470.8 127.3L472.8 154.5z" fill="url(#rg5)"/>
<path d="M472.7 154.5L470.7 127.3L471.3 127.2L473.3 154.4z" fill="url(#rg5)"/>
<path d="M473.2 154.4L471.2 127.2L471.9 127.4L473.9 154.2z" fill="url(#rg5)"/>
<path d="M473.7 154.2L471.7 127.4L472.4 128.0L474.4 154.1z" fill="url(#rg5)"/>
<path d="M474.2 154.1L472.2 128.0L472.9 129.2L474.9 153.9z" fill="url(#rg5)"/>
<path d="M474.8 153.9L472.8 129.2L473.4 131.7L475.4 153.8z" fill="url(#rg4)"/>
<path d="M475.3 153.8L473.3 131.7L474.0 152.1L476.0 153.6z" fill="url(#rg0)"/>
<path d="M476.3 153.5L474.3 152.0L475.0 130.9L477.0 153.3z" fill="url(#rg0)"/>
<path d="M476.9 153.3L474.9 130.9L475.6 128.2L477.6 153.2z" fill="url(#rg4)"/>
<path d="M477.4 153.2L475.4 128.2L476.1 126.8L478.1 153.0z" fill="url(#rg5)"/>
<path d="M477.9 153.0L475.9 126.8L476.6 125.9L478.6 152.9z" fill="url(#rg5)"/>
<path d="M478.5 152.9L476.5 125.9L477.1 125.4L479.1 152.7z" fill="url(#rg5)"/>
<path d="M479.0 152.7L477.0 125.4L477.7 125.3L479.7 152.6z" fill="url(#rg5)"/>
<path d="M479.5 152.6L477.5 125.3L478.2 125.5L480.2 152.4z" fill="url(#rg5)"/>
<path d="M480.0 152.4L478.0 125.5L478.7 126.1L480.7 152.3z" fill="url(#rg5)"/>
<path d="M480.6 152.3L478.6 126.1L479.2 127.3L481.2 152.1z" fill="url(#rg5)"/>
<path d="M481.1 152.1L479.1 127.3L479.8 129.9L481.8 152.0z" fill="url(#rg4)"/>
<path d="M481.6 152.0L479.6 129.9L480.3 150.3L482.3 151.8z" fill="url(#rg0)"/>
<path d="M482.7 151.7L480.7 150.2L481.4 129.0L483.4 151.5z" fill="url(#rg0)"/>
<path d="M483.2 151.5L481.2 129.0L481.9 126.4L483.9 151.4z" fill="url(#rg4)"/>
<path d="M483.7 151.4L481.7 126.4L482.4 124.9L484.4 151.2z" fill="url(#rg5)"/>
<path d="M484.3 151.2L482.3 124.9L482.9 124.0L484.9 151.1z" fill="url(#rg5)"/>
<path d="M484.8 151.1L482.8 124.0L483.5 123.6L485.5 150.9z" fill="url(#rg5)"/>
<path d="M485.3 150.9L483.3 123.6L484.0 123.4L486.0 150.8z" fill="url(#rg5)"/>
<path d="M485.8 150.8L483.8 123.4L484.5 123.6L486.5 150.6z" fill="url(#rg5)"/>
<path d="M486.4 150.6L484.4 123.6L485.0 124.3L487.0 150.5z" fill="url(#rg5)"/>
<path d="M486.9 150.5L484.9 124.3L485.6 125.5L487.6 150.3z" fill="url(#rg5)"/>
<path d="M487.4 150.3L485.4 125.5L486.1 125.4L488.1 150.2z" fill="url(#rg4)"/>
<path d="M487.9 150.2L485.9 125.4L486.6 125.2L488.6 150.0z" fill="url(#rg4)"/>
<path d="M488.5 150.0L486.5 125.2L487.1 125.0L489.1 149.9z" fill="url(#rg4)"/>
<path d="M362.8 161.6L363.2 161.3L363.7 161.2L364.1 161.2L364.5 161.5L365.0 161.9L365.4 162.7L365.8 164.4" fill="none" stroke="#fdbe3e" stroke-width="1.20" stroke-linecap="round"/>
<path d="M363.3 164.3L363.7 164.0L364.1 163.9L364.4 163.8L364.8 163.9L365.1 164.1L365.5 164.5L365.8 165.0L366.2 165.9" fill="none" stroke="#d8ba56" stroke-width="0.85" stroke-linecap="round"/>
<path d="M367.4 163.9L367.8 162.0L368.2 161.0L368.7 160.3L369.1 159.8L369.5 159.5L370.0 159.3L370.4 159.4L370.9 159.6L371.3 160.1L371.7 160.9L372.2 162.5" fill="none" stroke="#fdbe3e" stroke-width="1.20" stroke-linecap="round"/>
<path d="M368.6 164.1L368.9 163.4L369.3 162.9L369.7 162.5L370.0 162.2L370.4 162.0L370.7 162.0L371.1 162.1L371.4 162.2L371.8 162.6L372.2 163.1L372.5 164.0" fill="none" stroke="#d8ba56" stroke-width="0.85" stroke-linecap="round"/>
<path d="M373.7 162.0L374.1 160.2L374.6 159.1L375.0 158.4L375.4 157.9L375.9 157.6L376.3 157.5L376.7 157.5L377.2 157.7L377.6 158.2L378.0 159.0L378.5 160.7" fill="none" stroke="#fdbe3e" stroke-width="1.20" stroke-linecap="round"/>
<path d="M374.9 162.3L375.3 161.5L375.6 161.0L376.0 160.6L376.3 160.3L376.7 160.2L377.1 160.1L377.4 160.2L377.8 160.4L378.1 160.7L378.5 161.3L378.8 162.2" fill="none" stroke="#d8ba56" stroke-width="0.85" stroke-linecap="round"/>
<path d="M380.0 160.2L380.4 158.3L380.9 157.3L381.3 156.5L381.7 156.0L382.2 155.7L382.6 155.6L383.1 155.7L383.5 155.9L383.9 156.4L384.4 157.2L384.8 158.9" fill="none" stroke="#fdbe3e" stroke-width="1.20" stroke-linecap="round"/>
<path d="M381.2 160.4L381.6 159.7L381.9 159.1L382.3 158.7L382.7 158.5L383.0 158.3L383.4 158.3L383.7 158.3L384.1 158.5L384.4 158.9L384.8 159.5L385.2 160.4" fill="none" stroke="#d8ba56" stroke-width="0.85" stroke-linecap="round"/>
<path d="M386.3 158.4L386.8 156.5L387.2 155.4L387.6 154.7L388.1 154.2L388.5 153.9L388.9 153.7L389.4 153.8L389.8 154.0L390.3 154.5L390.7 155.4L391.1 157.1" fill="none" stroke="#fdbe3e" stroke-width="1.20" stroke-linecap="round"/>
<path d="M387.6 158.6L387.9 157.8L388.3 157.3L388.6 156.9L389.0 156.6L389.3 156.4L389.7 156.4L390.0 156.5L390.4 156.7L390.8 157.0L391.1 157.6L391.5 158.6" fill="none" stroke="#d8ba56" stroke-width="0.85" stroke-linecap="round"/>
<path d="M392.6 156.7L393.1 154.7L393.5 153.6L394.0 152.8L394.4 152.3L394.8 152.0L395.3 151.9L395.7 151.9L396.1 152.2L396.6 152.7L397.0 153.5L397.4 155.3" fill="none" stroke="#fdbe3e" stroke-width="1.20" stroke-linecap="round"/>
<path d="M393.9 156.8L394.2 156.0L394.6 155.4L394.9 155.0L395.3 154.7L395.7 154.6L396.0 154.5L396.4 154.6L396.7 154.8L397.1 155.2L397.4 155.8L397.8 156.7" fill="none" stroke="#d8ba56" stroke-width="0.85" stroke-linecap="round"/>
<path d="M399.0 154.9L399.4 152.8L399.8 151.7L400.3 151.0L400.7 150.5L401.1 150.1L401.6 150.0L402.0 150.1L402.5 150.3L402.9 150.8L403.3 151.7L403.8 153.5" fill="none" stroke="#fdbe3e" stroke-width="1.20" stroke-linecap="round"/>
<path d="M400.2 154.9L400.6 154.1L400.9 153.6L401.3 153.1L401.6 152.9L402.0 152.7L402.3 152.7L402.7 152.7L403.0 153.0L403.4 153.3L403.8 154.0L404.1 154.9" fill="none" stroke="#d8ba56" stroke-width="0.85" stroke-linecap="round"/>
<path d="M405.3 153.1L405.7 151.0L406.2 149.9L406.6 149.1L407.0 148.6L407.5 148.3L407.9 148.2L408.3 148.2L408.8 148.5L409.2 149.0L409.7 149.9L410.1 151.7" fill="none" stroke="#fdbe3e" stroke-width="1.20" stroke-linecap="round"/>
<path d="M406.5 153.1L406.9 152.3L407.2 151.7L407.6 151.3L407.9 151.0L408.3 150.8L408.7 150.8L409.0 150.9L409.4 151.1L409.7 151.5L410.1 152.1L410.4 153.1" fill="none" stroke="#d8ba56" stroke-width="0.85" stroke-linecap="round"/>
<path d="M411.6 151.3L412.0 149.2L412.5 148.0L412.9 147.3L413.4 146.7L413.8 146.4L414.2 146.3L414.7 146.3L415.1 146.6L415.5 147.1L416.0 148.1L416.4 149.9" fill="none" stroke="#fdbe3e" stroke-width="1.20" stroke-linecap="round"/>
<path d="M412.8 151.3L413.2 150.5L413.6 149.9L413.9 149.4L414.3 149.1L414.6 149.0L415.0 148.9L415.3 149.0L415.7 149.3L416.0 149.7L416.4 150.3L416.8 151.3" fill="none" stroke="#d8ba56" stroke-width="0.85" stroke-linecap="round"/>
<path d="M417.9 149.5L418.4 147.4L418.8 146.2L419.2 145.4L419.7 144.9L420.1 144.6L420.5 144.4L421.0 144.5L421.4 144.8L421.9 145.3L422.3 146.2L422.7 148.1" fill="none" stroke="#fdbe3e" stroke-width="1.20" stroke-linecap="round"/>
<path d="M419.2 149.4L419.5 148.6L419.9 148.0L420.2 147.6L420.6 147.3L420.9 147.1L421.3 147.1L421.7 147.2L422.0 147.4L422.4 147.8L422.7 148.5L423.1 149.5" fill="none" stroke="#d8ba56" stroke-width="0.85" stroke-linecap="round"/>
<path d="M424.3 147.7L424.7 145.5L425.1 144.3L425.6 143.5L426.0 143.0L426.4 142.7L426.9 142.6L427.3 142.6L427.7 142.9L428.2 143.5L428.6 144.4L429.1 146.3" fill="none" stroke="#fdbe3e" stroke-width="1.20" stroke-linecap="round"/>
<path d="M425.5 147.6L425.8 146.8L426.2 146.1L426.6 145.7L426.9 145.4L427.3 145.2L427.6 145.2L428.0 145.3L428.3 145.5L428.7 146.0L429.0 146.6L429.4 147.7" fill="none" stroke="#d8ba56" stroke-width="0.85" stroke-linecap="round"/>
<path d="M430.6 145.9L431.0 143.7L431.4 142.5L431.9 141.7L432.3 141.1L432.8 140.8L433.2 140.7L433.6 140.8L434.1 141.1L434.5 141.6L434.9 142.6L435.4 144.6" fill="none" stroke="#fdbe3e" stroke-width="1.20" stroke-linecap="round"/>
<path d="M431.8 145.8L432.2 144.9L432.5 144.3L432.9 143.8L433.2 143.5L433.6 143.4L433.9 143.3L434.3 143.4L434.7 143.7L435.0 144.1L435.4 144.8L435.7 145.9" fill="none" stroke="#d8ba56" stroke-width="0.85" stroke-linecap="round"/>
<path d="M436.9 144.1L437.3 141.9L437.8 140.7L438.2 139.8L438.6 139.3L439.1 139.0L439.5 138.8L439.9 138.9L440.4 139.2L440.8 139.8L441.3 140.8L441.7 142.8" fill="none" stroke="#fdbe3e" stroke-width="1.20" stroke-linecap="round"/>
<path d="M438.1 143.9L438.5 143.1L438.8 142.4L439.2 142.0L439.5 141.7L439.9 141.5L440.3 141.5L440.6 141.6L441.0 141.8L441.3 142.3L441.7 143.0L442.0 144.1" fill="none" stroke="#d8ba56" stroke-width="0.85" stroke-linecap="round"/>
<path d="M443.2 142.3L443.7 140.1L444.1 138.8L444.5 138.0L445.0 137.4L445.4 137.1L445.8 137.0L446.3 137.0L446.7 137.3L447.1 137.9L447.6 139.0L448.0 141.0" fill="none" stroke="#fdbe3e" stroke-width="1.20" stroke-linecap="round"/>
<path d="M444.4 142.1L444.8 141.2L445.2 140.6L445.5 140.1L445.9 139.8L446.2 139.7L446.6 139.6L446.9 139.7L447.3 140.0L447.7 140.4L448.0 141.1L448.4 142.2" fill="none" stroke="#d8ba56" stroke-width="0.85" stroke-linecap="round"/>
<path d="M449.5 140.6L450.0 138.3L450.4 137.0L450.8 136.1L451.3 135.6L451.7 135.2L452.2 135.1L452.6 135.2L453.0 135.5L453.5 136.1L453.9 137.1L454.3 139.2" fill="none" stroke="#fdbe3e" stroke-width="1.20" stroke-linecap="round"/>
<path d="M450.8 140.3L451.1 139.4L451.5 138.7L451.8 138.3L452.2 138.0L452.5 137.8L452.9 137.8L453.3 137.9L453.6 138.1L454.0 138.6L454.3 139.3L454.7 140.4" fill="none" stroke="#d8ba56" stroke-width="0.85" stroke-linecap="round"/>
<path d="M455.9 138.8L456.3 136.4L456.7 135.1L457.2 134.3L457.6 133.7L458.0 133.4L458.5 133.2L458.9 133.3L459.3 133.6L459.8 134.3L460.2 135.3L460.7 137.4" fill="none" stroke="#fdbe3e" stroke-width="1.20" stroke-linecap="round"/>
<path d="M457.1 138.4L457.4 137.5L457.8 136.9L458.2 136.4L458.5 136.1L458.9 135.9L459.2 135.9L459.6 136.0L459.9 136.3L460.3 136.8L460.7 137.5L461.0 138.6" fill="none" stroke="#d8ba56" stroke-width="0.85" stroke-linecap="round"/>
<path d="M462.2 136.9L462.6 134.4L463.1 132.9L463.5 131.8L463.9 131.0L464.4 130.4L464.8 130.1L465.2 130.0L465.7 130.2L466.1 130.7L466.5 131.9L467.0 134.2" fill="none" stroke="#fdbe3e" stroke-width="1.20" stroke-linecap="round"/>
<path d="M463.4 136.3L463.8 135.2L464.1 134.4L464.5 133.7L464.8 133.2L465.2 132.9L465.5 132.7L465.9 132.7L466.3 132.8L466.6 133.2L467.0 134.0L467.3 135.3" fill="none" stroke="#d8ba56" stroke-width="0.85" stroke-linecap="round"/>
<path d="M468.5 133.8L468.9 131.2L469.4 129.8L469.8 128.8L470.2 128.2L470.7 127.8L471.1 127.7L471.6 127.8L472.0 128.2L472.4 128.9L472.9 130.0L473.3 132.4" fill="none" stroke="#fdbe3e" stroke-width="1.20" stroke-linecap="round"/>
<path d="M469.7 133.1L470.1 132.1L470.4 131.4L470.8 130.9L471.2 130.6L471.5 130.4L471.9 130.4L472.2 130.5L472.6 130.8L472.9 131.3L473.3 132.1L473.6 133.4" fill="none" stroke="#d8ba56" stroke-width="0.85" stroke-linecap="round"/>
<path d="M474.8 131.9L475.3 129.3L475.7 127.9L476.1 127.0L476.6 126.3L477.0 126.0L477.4 125.8L477.9 126.0L478.3 126.3L478.7 127.0L479.2 128.2L479.6 130.5" fill="none" stroke="#fdbe3e" stroke-width="1.20" stroke-linecap="round"/>
<path d="M476.1 131.3L476.4 130.3L476.8 129.6L477.1 129.0L477.5 128.7L477.8 128.5L478.2 128.5L478.5 128.6L478.9 129.0L479.3 129.5L479.6 130.3L480.0 131.6" fill="none" stroke="#d8ba56" stroke-width="0.85" stroke-linecap="round"/>
<path d="M481.1 130.1L481.6 127.5L482.0 126.0L482.5 125.1L482.9 124.5L483.3 124.1L483.8 124.0L484.2 124.1L484.6 124.5L485.1 125.1L485.5 126.0L485.9 125.9" fill="none" stroke="#fdbe3e" stroke-width="1.20" stroke-linecap="round"/>
<path d="M482.4 129.4L482.7 128.4L483.1 127.7L483.4 127.2L483.8 126.8L484.2 126.7L484.5 126.6L484.9 126.8L485.2 127.1L485.6 127.6L485.9 128.4L486.3 128.6" fill="none" stroke="#d8ba56" stroke-width="0.85" stroke-linecap="round"/>
<path d="M323.6 155.0V47.3M323.6 155.0h-3M323.6 133.5h-3M323.6 111.9h-3M323.6 90.4h-3M323.6 68.8h-3M323.6 47.3h-3M338.3 163.4L335.5 164.4M367.8 180.3L364.9 181.2M397.2 197.2L394.3 198.1M423.5 201.8L426.1 203.3M446.8 194.1L449.4 195.6M470.1 186.4L472.7 187.9M493.3 178.8L495.9 180.3M516.6 171.1L519.2 172.6" stroke="#262626" stroke-width="1" fill="none"/>
<g font-family="'Liberation Serif','Times New Roman',serif" font-size="11.5" fill="#262626" stroke="#262626" stroke-width="0.22">
<text x="317" y="157.4" text-anchor="end">0</text>
<text x="317" y="135.9" text-anchor="end">0.5</text>
<text x="317" y="114.3" text-anchor="end">1</text>
<text x="317" y="92.8" text-anchor="end">1.5</text>
<text x="317" y="71.2" text-anchor="end">2</text>
<text x="317" y="49.7" text-anchor="end">2.5</text>
<text x="296.2" y="32.8">×<tspan dx="1.4">10</tspan><tspan font-size="7.5" dx="0.8" dy="-6">4</tspan></text>
<text transform="translate(295.0 101) rotate(-90)" text-anchor="middle">Amplitude</text>
<text x="322.5" y="176.5" text-anchor="middle">242</text>
<text x="351.9" y="193.4" text-anchor="middle">240</text>
<text x="381.4" y="210.3" text-anchor="middle">238</text>
<text x="430.1" y="216.1">-400</text>
<text x="453.4" y="208.4">-200</text>
<text x="476.7" y="200.7">0</text>
<text x="499.9" y="193.1">200</text>
<text x="523.2" y="185.4">400</text>
<text x="330.2" y="219.3" text-anchor="middle">Range (km)</text>
<text x="470" y="230.5" text-anchor="middle" font-size="11.15">Ambiguous Doppler (Hz)</text>
<text x="419.4" y="246" text-anchor="middle" font-size="12">(<tspan font-weight="bold">b</tspan>)</text>
</g></svg>
</body></html>
